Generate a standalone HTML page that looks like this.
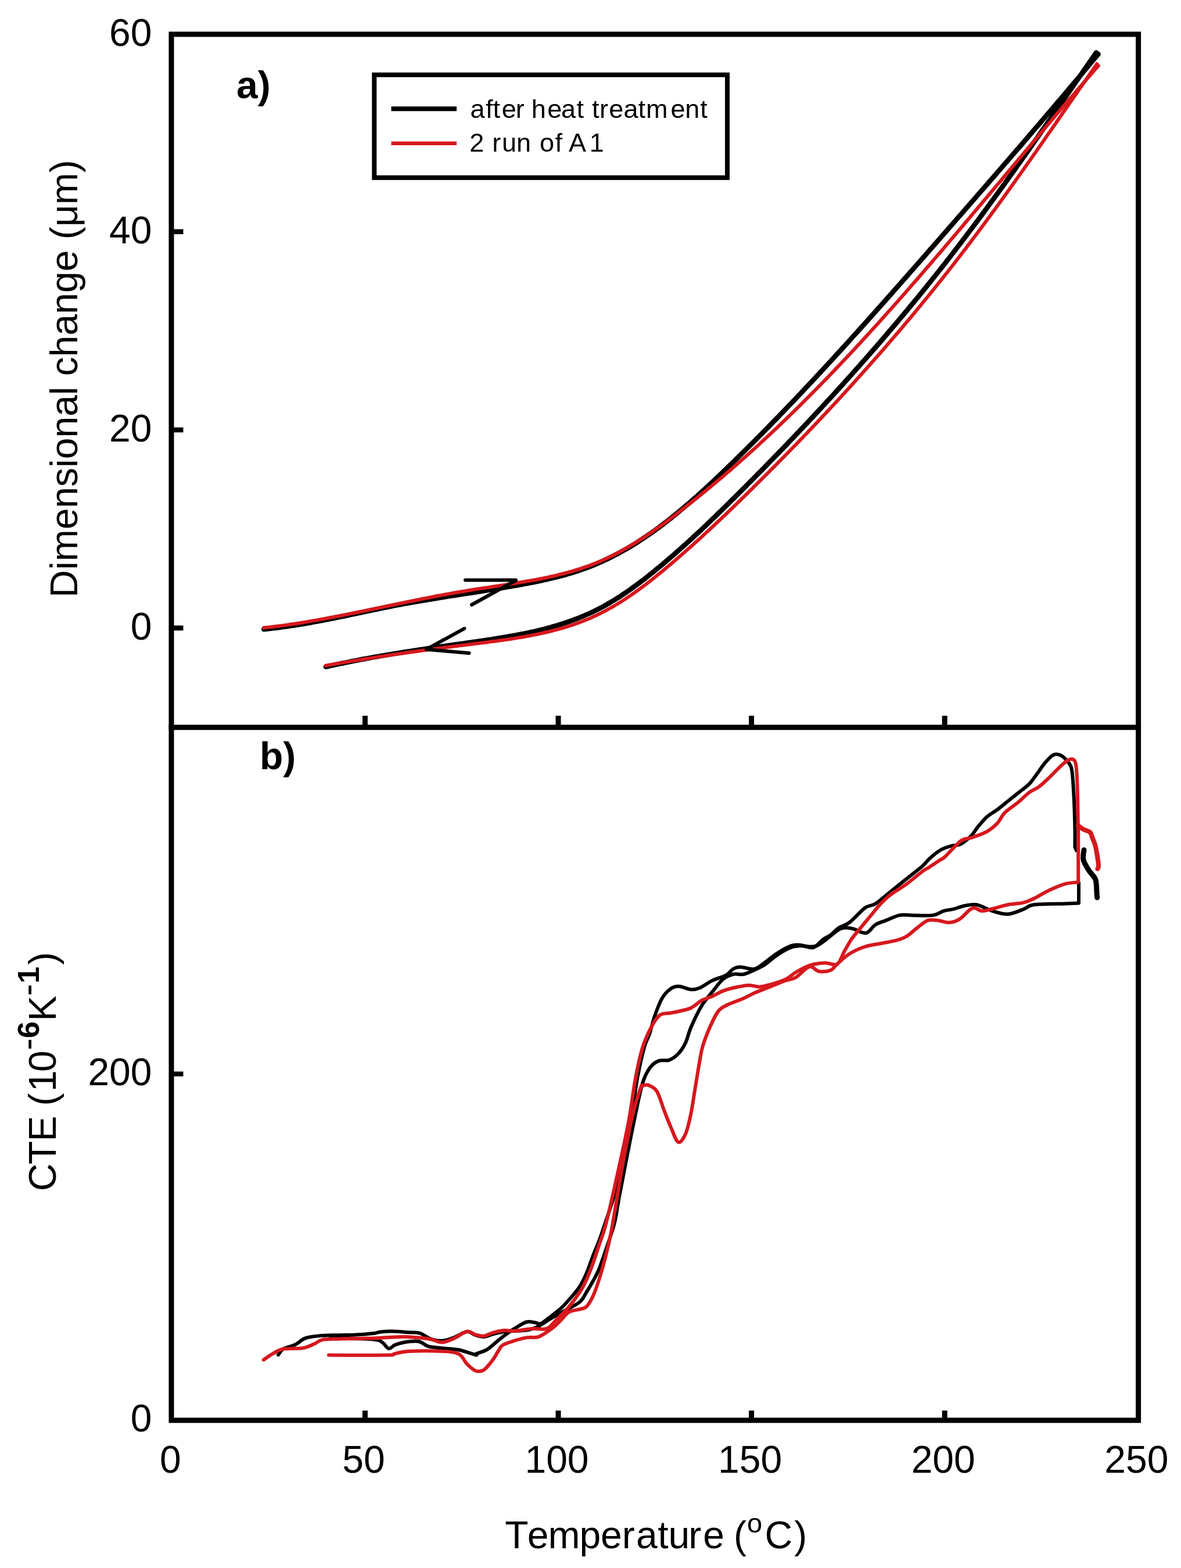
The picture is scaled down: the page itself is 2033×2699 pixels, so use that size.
<!DOCTYPE html>
<html><head><meta charset="utf-8"><title>Dimensional change and CTE vs temperature</title>
<style>html,body{margin:0;padding:0;background:#fff;}svg{display:block;}</style></head>
<body><svg width="2033" height="2699" viewBox="0 0 2033 2699">
<rect width="2033" height="2699" fill="#fff"/>
<rect x="295" y="59" width="1664.6" height="2385.8" fill="none" stroke="#000" stroke-width="9"/>
<line x1="290.5" y1="1252" x2="1964.1" y2="1252" stroke="#000" stroke-width="9"/>
<line x1="299" y1="398.8" x2="315.5" y2="398.8" stroke="#000" stroke-width="8.6"/>
<line x1="299" y1="740.0" x2="315.5" y2="740.0" stroke="#000" stroke-width="8.6"/>
<line x1="299" y1="1081.0" x2="315.5" y2="1081.0" stroke="#000" stroke-width="8.6"/>
<line x1="299" y1="1848.6" x2="315.5" y2="1848.6" stroke="#000" stroke-width="8.3"/>
<line x1="628.4" y1="1232" x2="628.4" y2="1248" stroke="#000" stroke-width="9"/>
<line x1="628.4" y1="2428" x2="628.4" y2="2441" stroke="#000" stroke-width="9"/>
<line x1="961.0" y1="1232" x2="961.0" y2="1248" stroke="#000" stroke-width="9"/>
<line x1="961.0" y1="2428" x2="961.0" y2="2441" stroke="#000" stroke-width="9"/>
<line x1="1293.6" y1="1232" x2="1293.6" y2="1248" stroke="#000" stroke-width="9"/>
<line x1="1293.6" y1="2428" x2="1293.6" y2="2441" stroke="#000" stroke-width="9"/>
<line x1="1626.2" y1="1232" x2="1626.2" y2="1248" stroke="#000" stroke-width="9"/>
<line x1="1626.2" y1="2428" x2="1626.2" y2="2441" stroke="#000" stroke-width="9"/>
<text x="261.5" y="79" font-size="66" text-anchor="end" font-weight="normal" font-family="Liberation Sans, Arial, sans-serif">60</text>
<text x="261.5" y="418.8" font-size="66" text-anchor="end" font-weight="normal" font-family="Liberation Sans, Arial, sans-serif">40</text>
<text x="261.5" y="760" font-size="66" text-anchor="end" font-weight="normal" font-family="Liberation Sans, Arial, sans-serif">20</text>
<text x="261.5" y="1101" font-size="66" text-anchor="end" font-weight="normal" font-family="Liberation Sans, Arial, sans-serif">0</text>
<text x="261.5" y="1868.1" font-size="66" text-anchor="end" font-weight="normal" font-family="Liberation Sans, Arial, sans-serif">200</text>
<text x="261.5" y="2464.3" font-size="66" text-anchor="end" font-weight="normal" font-family="Liberation Sans, Arial, sans-serif">0</text>
<text x="293.3" y="2535" font-size="66" text-anchor="middle" font-weight="normal" font-family="Liberation Sans, Arial, sans-serif">0</text>
<text x="625.9" y="2535" font-size="66" text-anchor="middle" font-weight="normal" font-family="Liberation Sans, Arial, sans-serif">50</text>
<text x="958.5" y="2535" font-size="66" text-anchor="middle" font-weight="normal" font-family="Liberation Sans, Arial, sans-serif">100</text>
<text x="1291.1" y="2535" font-size="66" text-anchor="middle" font-weight="normal" font-family="Liberation Sans, Arial, sans-serif">150</text>
<text x="1623.7" y="2535" font-size="66" text-anchor="middle" font-weight="normal" font-family="Liberation Sans, Arial, sans-serif">200</text>
<text x="1956.3" y="2535" font-size="66" text-anchor="middle" font-weight="normal" font-family="Liberation Sans, Arial, sans-serif">250</text>
<text font-family="Liberation Sans, Arial, sans-serif" style="white-space:pre"><tspan x="869.2" y="2665.0" font-size="66">T</tspan><tspan x="907.8" y="2665.0" font-size="66">e</tspan><tspan x="943.6" y="2665.0" font-size="66">m</tspan><tspan x="997.5" y="2665.0" font-size="66">p</tspan><tspan x="1034.1" y="2665.0" font-size="66">e</tspan><tspan x="1070.8" y="2665.0" font-size="66">r</tspan><tspan x="1095.0" y="2665.0" font-size="66">a</tspan><tspan x="1132.2" y="2665.0" font-size="66">t</tspan><tspan x="1150.5" y="2665.0" font-size="66">u</tspan><tspan x="1185.2" y="2665.0" font-size="66">r</tspan><tspan x="1210.2" y="2665.0" font-size="66">e</tspan><tspan font-size="66"> </tspan><tspan x="1263.0" y="2665.0" font-size="66">(</tspan><tspan x="1286.1" y="2637.5" font-size="47">o</tspan><tspan x="1316.5" y="2665.0" font-size="66">C</tspan><tspan x="1367.2" y="2665.0" font-size="66">)</tspan></text>
<text transform="translate(133,652) rotate(-90)" font-size="66" text-anchor="middle" font-family="Liberation Sans, Arial, sans-serif">Dimensional change (μm)</text>
<text font-family="Liberation Sans, Arial, sans-serif" transform="translate(96.2,2100) rotate(-90)" style="white-space:pre"><tspan x="49.7" y="0.0" font-size="66">C</tspan><tspan x="95.7" y="0.0" font-size="66">T</tspan><tspan x="135.3" y="0.0" font-size="66">E</tspan><tspan font-size="66"> </tspan><tspan x="196.5" y="0.0" font-size="66">(</tspan><tspan x="221.0" y="0.0" font-size="66">1</tspan><tspan x="255.0" y="0.0" font-size="66">0</tspan><tspan x="292.3" y="-27.9" font-size="62">-</tspan><tspan x="313.1" y="-29.7" font-size="52" font-weight="bold">6</tspan><tspan x="342.2" y="0.0" font-size="66">K</tspan><tspan x="385.8" y="-27.9" font-size="62">-</tspan><tspan x="407.3" y="-29.7" font-size="52" font-weight="bold">1</tspan><tspan x="439.2" y="0.0" font-size="66">)</tspan></text>
<text x="407" y="169" font-size="66" text-anchor="start" font-weight="bold" font-family="Liberation Sans, Arial, sans-serif">a)</text>
<text x="447" y="1323.7" font-size="66" text-anchor="start" font-weight="bold" font-family="Liberation Sans, Arial, sans-serif">b)</text>
<rect x="644.3" y="128.8" width="607.7" height="177" fill="none" stroke="#000" stroke-width="8"/>
<line x1="673.5" y1="187.3" x2="786" y2="187.3" stroke="#000" stroke-width="8"/>
<line x1="673.5" y1="246.7" x2="786" y2="246.7" stroke="rgb(214,24,30)" stroke-width="6.5"/>
<text font-family="Liberation Sans, Arial, sans-serif" style="white-space:pre"><tspan x="809.6" y="202.6" font-size="45">a</tspan><tspan x="836.0" y="202.6" font-size="45">f</tspan><tspan x="848.5" y="202.6" font-size="45">t</tspan><tspan x="863.7" y="202.6" font-size="45">e</tspan><tspan x="887.8" y="202.6" font-size="45">r</tspan><tspan font-size="45"> </tspan><tspan x="914.7" y="202.6" font-size="45">h</tspan><tspan x="942.3" y="202.6" font-size="45">e</tspan><tspan x="966.1" y="202.6" font-size="45">a</tspan><tspan x="992.4" y="202.6" font-size="45">t</tspan><tspan font-size="45"> </tspan><tspan x="1019.1" y="202.6" font-size="45">t</tspan><tspan x="1032.0" y="202.6" font-size="45">r</tspan><tspan x="1048.3" y="202.6" font-size="45">e</tspan><tspan x="1073.4" y="202.6" font-size="45">a</tspan><tspan x="1098.4" y="202.6" font-size="45">t</tspan><tspan x="1111.9" y="202.6" font-size="45">m</tspan><tspan x="1154.6" y="202.6" font-size="45">e</tspan><tspan x="1179.3" y="202.6" font-size="45">n</tspan><tspan x="1205.3" y="202.6" font-size="45">t</tspan></text>
<text font-family="Liberation Sans, Arial, sans-serif" style="white-space:pre"><tspan x="808.3" y="260.6" font-size="45">2</tspan><tspan font-size="45"> </tspan><tspan x="847.3" y="260.6" font-size="45">r</tspan><tspan x="863.9" y="260.6" font-size="45">u</tspan><tspan x="889.1" y="260.6" font-size="45">n</tspan><tspan font-size="45"> </tspan><tspan x="929.1" y="260.6" font-size="45">o</tspan><tspan x="955.6" y="260.6" font-size="45">f</tspan><tspan font-size="45"> </tspan><tspan x="979.1" y="260.6" font-size="45">A</tspan><tspan x="1014.7" y="260.6" font-size="45">1</tspan></text>
<path d="M454.2,1083.2 C455.3,1083.1 458.5,1082.8 460.7,1082.5 C462.9,1082.2 465.0,1082.0 467.1,1081.7 C469.2,1081.5 471.4,1081.2 473.5,1081.0 C475.6,1080.8 477.7,1080.5 479.8,1080.2 C481.9,1079.9 483.9,1079.6 486.0,1079.3 C488.1,1079.0 490.1,1078.8 492.2,1078.5 C494.3,1078.2 496.3,1077.9 498.4,1077.6 C500.4,1077.3 502.5,1077.0 504.5,1076.7 C506.5,1076.4 508.6,1076.0 510.6,1075.7 C512.6,1075.4 514.6,1075.1 516.6,1074.8 C518.6,1074.5 520.6,1074.1 522.6,1073.8 C524.6,1073.5 526.6,1073.1 528.6,1072.8 C530.6,1072.5 532.5,1072.0 534.5,1071.7 C536.5,1071.4 538.4,1071.1 540.4,1070.7 C542.4,1070.3 544.3,1070.0 546.3,1069.6 C548.2,1069.2 550.2,1068.9 552.1,1068.5 C554.0,1068.1 556.0,1067.8 557.9,1067.4 C559.8,1067.0 561.8,1066.7 563.7,1066.3 C565.6,1065.9 567.6,1065.5 569.5,1065.1 C571.4,1064.7 573.3,1064.4 575.2,1064.0 C577.1,1063.6 579.0,1063.2 580.9,1062.8 C582.8,1062.4 584.8,1062.0 586.7,1061.6 C588.6,1061.2 590.5,1060.9 592.4,1060.5 C594.3,1060.1 596.2,1059.7 598.1,1059.3 C600.0,1058.9 601.8,1058.5 603.7,1058.1 C605.6,1057.7 607.5,1057.3 609.4,1056.9 C611.3,1056.5 613.2,1056.1 615.1,1055.7 C617.0,1055.3 618.9,1054.9 620.8,1054.5 C622.7,1054.1 624.5,1053.7 626.4,1053.3 C628.3,1052.9 630.2,1052.5 632.1,1052.1 C634.0,1051.7 635.9,1051.3 637.8,1050.9 C639.7,1050.5 641.6,1050.1 643.5,1049.7 C645.4,1049.3 647.2,1048.9 649.1,1048.5 C651.0,1048.1 652.9,1047.8 654.8,1047.4 C656.7,1047.0 658.7,1046.6 660.6,1046.2 C662.5,1045.8 664.4,1045.4 666.3,1045.0 C668.2,1044.6 670.1,1044.3 672.0,1043.9 C673.9,1043.5 675.9,1043.1 677.8,1042.7 C679.7,1042.3 681.7,1042.0 683.6,1041.6 C685.5,1041.2 687.5,1040.9 689.4,1040.5 C691.3,1040.1 693.3,1039.8 695.2,1039.4 C697.1,1039.0 699.0,1038.7 701.0,1038.3 C703.0,1037.9 704.9,1037.6 706.9,1037.3 C708.9,1037.0 710.8,1036.5 712.8,1036.2 C714.8,1035.9 716.8,1035.5 718.8,1035.2 C720.8,1034.9 722.7,1034.5 724.7,1034.2 C726.7,1033.9 728.7,1033.5 730.7,1033.2 C732.7,1032.9 734.7,1032.5 736.7,1032.2 C738.7,1031.9 740.7,1031.5 742.7,1031.2 C744.7,1030.9 746.7,1030.5 748.7,1030.2 C750.7,1029.9 752.8,1029.5 754.8,1029.2 C756.8,1028.9 758.8,1028.6 760.8,1028.3 C762.8,1028.0 764.9,1027.6 766.9,1027.3 C768.9,1027.0 771.0,1026.7 773.0,1026.4 C775.0,1026.1 777.1,1025.7 779.1,1025.4 C781.1,1025.1 783.2,1024.8 785.2,1024.5 C787.2,1024.2 789.3,1023.8 791.3,1023.5 C793.3,1023.2 795.3,1022.9 797.4,1022.6 C799.5,1022.3 801.5,1021.9 803.6,1021.6 C805.7,1021.3 807.7,1021.0 809.7,1020.7 C811.7,1020.4 813.8,1020.0 815.8,1019.7 C817.8,1019.4 820.0,1019.1 822.0,1018.8 C824.0,1018.5 826.1,1018.1 828.1,1017.8 C830.1,1017.5 832.2,1017.1 834.2,1016.8 C836.2,1016.5 838.4,1016.2 840.4,1015.9 C842.4,1015.6 844.5,1015.2 846.5,1014.9 C848.5,1014.6 850.6,1014.2 852.6,1013.9 C854.6,1013.6 856.8,1013.2 858.8,1012.9 C860.8,1012.6 862.9,1012.2 864.9,1011.9 C866.9,1011.5 869.0,1011.1 871.0,1010.8 C873.0,1010.4 875.1,1010.1 877.1,1009.8 C879.1,1009.4 881.2,1009.1 883.2,1008.7 C885.2,1008.4 887.2,1008.1 889.2,1007.7 C891.2,1007.4 893.3,1007.0 895.3,1006.6 C897.3,1006.2 899.3,1005.8 901.3,1005.4 C903.3,1005.0 905.4,1004.7 907.4,1004.3 C909.4,1003.9 911.4,1003.6 913.4,1003.2 C915.4,1002.8 917.4,1002.4 919.4,1002.0 C921.4,1001.6 923.3,1001.2 925.3,1000.8 C927.3,1000.4 929.3,999.9 931.3,999.5 C933.3,999.1 935.2,998.6 937.2,998.2 C939.2,997.8 941.1,997.4 943.1,996.9 C945.1,996.4 947.0,996.0 949.0,995.5 C951.0,995.0 952.9,994.6 954.8,994.1 C956.7,993.6 958.7,993.2 960.6,992.7 C962.5,992.2 964.5,991.7 966.4,991.2 C968.3,990.7 970.3,990.1 972.2,989.6 C974.1,989.1 976.0,988.5 977.9,988.0 C979.8,987.5 981.7,986.9 983.6,986.3 C985.5,985.7 987.4,985.1 989.3,984.5 C991.2,983.9 993.0,983.3 994.9,982.7 C996.8,982.1 998.6,981.4 1000.5,980.8 C1002.4,980.1 1004.2,979.5 1006.1,978.8 C1008.0,978.1 1009.8,977.5 1011.6,976.8 C1013.4,976.1 1015.2,975.4 1017.0,974.7 C1018.8,974.0 1020.7,973.2 1022.5,972.5 C1024.3,971.8 1026.1,971.0 1027.9,970.2 C1029.7,969.4 1031.4,968.6 1033.2,967.8 C1035.0,967.0 1036.8,966.2 1038.6,965.4 C1040.4,964.6 1042.2,963.7 1043.9,962.9 C1045.7,962.1 1047.4,961.2 1049.1,960.4 C1050.8,959.5 1052.6,958.7 1054.3,957.8 C1056.0,956.9 1057.8,956.0 1059.5,955.1 C1061.2,954.2 1063.0,953.3 1064.7,952.4 C1066.4,951.5 1068.1,950.5 1069.8,949.6 C1071.5,948.7 1073.2,947.7 1074.9,946.7 C1076.6,945.7 1078.3,944.8 1080.0,943.8 C1081.7,942.8 1083.3,941.8 1085.0,940.8 C1086.7,939.8 1088.3,938.8 1090.0,937.8 C1091.7,936.8 1093.3,935.8 1095.0,934.7 C1096.7,933.7 1098.3,932.6 1100.0,931.5 C1101.7,930.4 1103.3,929.4 1104.9,928.3 C1106.5,927.2 1108.2,926.2 1109.8,925.1 C1111.4,924.0 1113.0,922.9 1114.6,921.8 C1116.2,920.7 1117.9,919.5 1119.5,918.4 C1121.1,917.3 1122.7,916.1 1124.3,915.0 C1125.9,913.9 1127.5,912.8 1129.1,911.6 C1130.7,910.5 1132.3,909.3 1133.9,908.1 C1135.5,906.9 1137.0,905.7 1138.6,904.5 C1140.2,903.3 1141.7,902.2 1143.3,901.0 C1144.9,899.8 1146.4,898.6 1148.0,897.4 C1149.6,896.2 1151.2,894.9 1152.7,893.7 C1154.2,892.5 1155.8,891.2 1157.3,890.0 C1158.8,888.8 1160.5,887.5 1162.0,886.3 C1163.5,885.0 1165.1,883.8 1166.6,882.5 C1168.1,881.2 1169.7,880.0 1171.2,878.7 C1172.7,877.4 1174.3,876.2 1175.8,874.9 C1177.3,873.6 1178.8,872.3 1180.3,871.0 C1181.8,869.7 1183.4,868.4 1184.9,867.1 C1186.4,865.8 1187.9,864.5 1189.4,863.2 C1190.9,861.9 1192.4,860.5 1193.9,859.2 C1195.4,857.9 1196.9,856.6 1198.4,855.3 C1199.9,854.0 1201.4,852.6 1202.9,851.3 C1204.4,849.9 1205.8,848.6 1207.3,847.2 C1208.8,845.9 1210.3,844.6 1211.8,843.2 C1213.3,841.9 1214.7,840.5 1216.2,839.1 C1217.7,837.7 1219.1,836.4 1220.6,835.0 C1222.1,833.6 1223.5,832.3 1225.0,830.9 C1226.5,829.5 1227.9,828.2 1229.4,826.8 C1230.9,825.4 1232.3,824.0 1233.8,822.6 C1235.3,821.2 1236.7,819.9 1238.2,818.5 C1239.7,817.1 1241.1,815.7 1242.6,814.3 C1244.0,812.9 1245.5,811.5 1246.9,810.1 C1248.4,808.7 1249.8,807.3 1251.3,805.9 C1252.8,804.5 1254.1,803.1 1255.6,801.7 C1257.0,800.3 1258.5,798.9 1260.0,797.5 C1261.5,796.1 1262.9,794.7 1264.3,793.3 C1265.7,791.9 1267.2,790.5 1268.6,789.1 C1270.0,787.7 1271.5,786.2 1272.9,784.8 C1274.3,783.4 1275.8,782.0 1277.2,780.6 C1278.6,779.2 1280.1,777.7 1281.5,776.3 C1282.9,774.9 1284.4,773.5 1285.8,772.1 C1287.2,770.7 1288.7,769.2 1290.1,767.8 C1291.5,766.4 1293.0,764.9 1294.4,763.5 C1295.8,762.1 1297.2,760.7 1298.6,759.3 C1300.0,757.9 1301.5,756.4 1302.9,755.0 C1304.3,753.6 1305.8,752.1 1307.2,750.7 C1308.6,749.3 1310.0,747.8 1311.4,746.4 C1312.8,745.0 1314.2,743.5 1315.6,742.1 C1317.0,740.7 1318.5,739.2 1319.9,737.8 C1321.3,736.4 1322.7,735.0 1324.1,733.5 C1325.5,732.0 1326.9,730.6 1328.3,729.1 C1329.7,727.6 1331.2,726.2 1332.6,724.8 C1334.0,723.4 1335.4,722.0 1336.8,720.5 C1338.2,719.0 1339.6,717.6 1341.0,716.1 C1342.4,714.6 1343.8,713.2 1345.2,711.8 C1346.6,710.3 1348.0,708.8 1349.4,707.4 C1350.8,706.0 1352.2,704.5 1353.6,703.1 C1355.0,701.7 1356.3,700.2 1357.7,698.7 C1359.1,697.2 1360.5,695.8 1361.9,694.3 C1363.3,692.8 1364.7,691.5 1366.1,690.0 C1367.5,688.5 1368.8,687.1 1370.2,685.6 C1371.6,684.1 1373.0,682.7 1374.4,681.2 C1375.8,679.7 1377.2,678.3 1378.6,676.8 C1380.0,675.3 1381.3,673.9 1382.7,672.4 C1384.1,670.9 1385.4,669.5 1386.8,668.0 C1388.2,666.5 1389.6,665.1 1391.0,663.6 C1392.4,662.1 1393.7,660.7 1395.1,659.2 C1396.5,657.7 1397.8,656.3 1399.2,654.8 C1400.6,653.3 1402.0,651.9 1403.4,650.4 C1404.8,648.9 1406.1,647.5 1407.5,646.0 C1408.9,644.5 1410.2,643.0 1411.6,641.5 C1413.0,640.0 1414.3,638.6 1415.7,637.1 C1417.1,635.6 1418.4,634.2 1419.8,632.7 C1421.2,631.2 1422.5,629.7 1423.9,628.2 C1425.3,626.7 1426.6,625.3 1428.0,623.8 C1429.4,622.3 1430.7,620.8 1432.1,619.3 C1433.5,617.8 1434.8,616.4 1436.2,614.9 C1437.6,613.4 1438.9,611.9 1440.2,610.4 C1441.5,608.9 1442.9,607.5 1444.3,606.0 C1445.7,604.5 1447.1,603.0 1448.4,601.5 C1449.8,600.0 1451.1,598.6 1452.4,597.1 C1453.8,595.6 1455.1,594.1 1456.5,592.6 C1457.9,591.1 1459.2,589.6 1460.6,588.1 C1461.9,586.6 1463.3,585.2 1464.6,583.7 C1465.9,582.2 1467.2,580.7 1468.6,579.2 C1469.9,577.7 1471.3,576.2 1472.7,574.7 C1474.1,573.2 1475.4,571.7 1476.7,570.2 C1478.0,568.7 1479.5,567.3 1480.8,565.8 C1482.1,564.3 1483.5,562.8 1484.8,561.3 C1486.1,559.8 1487.5,558.3 1488.8,556.8 C1490.1,555.3 1491.4,553.8 1492.8,552.3 C1494.2,550.8 1495.6,549.3 1496.9,547.8 C1498.2,546.3 1499.6,544.8 1500.9,543.3 C1502.2,541.8 1503.6,540.3 1504.9,538.8 C1506.2,537.3 1507.6,535.8 1508.9,534.3 C1510.2,532.8 1511.6,531.4 1512.9,529.9 C1514.2,528.4 1515.6,526.9 1516.9,525.4 C1518.2,523.9 1519.6,522.4 1520.9,520.9 C1522.2,519.4 1523.6,517.9 1524.9,516.4 C1526.2,514.9 1527.6,513.4 1528.9,511.9 C1530.2,510.4 1531.6,508.9 1532.9,507.4 C1534.2,505.9 1535.6,504.4 1536.9,502.9 C1538.2,501.4 1539.5,499.8 1540.8,498.3 C1542.1,496.8 1543.5,495.3 1544.8,493.8 C1546.1,492.3 1547.5,490.8 1548.8,489.3 C1550.1,487.8 1551.5,486.3 1552.8,484.8 C1554.1,483.3 1555.4,481.8 1556.7,480.3 C1558.0,478.8 1559.4,477.3 1560.7,475.8 C1562.0,474.3 1563.4,472.8 1564.7,471.3 C1566.0,469.8 1567.3,468.3 1568.6,466.8 C1569.9,465.3 1571.3,463.8 1572.6,462.3 C1573.9,460.8 1575.3,459.3 1576.6,457.8 C1577.9,456.3 1579.2,454.8 1580.5,453.3 C1581.8,451.8 1583.2,450.3 1584.5,448.8 C1585.8,447.3 1587.1,445.8 1588.4,444.3 C1589.7,442.8 1591.1,441.3 1592.4,439.8 C1593.7,438.3 1595.0,436.8 1596.3,435.3 C1597.6,433.8 1598.9,432.2 1600.2,430.7 C1601.5,429.2 1602.9,427.7 1604.2,426.2 C1605.5,424.7 1606.8,423.2 1608.1,421.7 C1609.4,420.2 1610.8,418.7 1612.1,417.2 C1613.4,415.7 1614.7,414.2 1616.0,412.7 C1617.3,411.2 1618.6,409.7 1619.9,408.2 C1621.2,406.7 1622.6,405.2 1623.9,403.7 C1625.2,402.2 1626.5,400.7 1627.8,399.2 C1629.1,397.7 1630.4,396.2 1631.7,394.7 C1633.0,393.2 1634.4,391.7 1635.7,390.2 C1637.0,388.7 1638.3,387.2 1639.6,385.7 C1640.9,384.2 1642.2,382.8 1643.5,381.3 C1644.8,379.8 1646.1,378.3 1647.4,376.8 C1648.7,375.3 1650.0,373.8 1651.3,372.3 C1652.6,370.8 1654.0,369.3 1655.3,367.8 C1656.6,366.3 1657.9,364.8 1659.2,363.3 C1660.5,361.8 1661.8,360.3 1663.1,358.8 C1664.4,357.3 1665.7,355.8 1667.0,354.3 C1668.3,352.8 1669.6,351.3 1670.9,349.8 C1672.2,348.3 1673.6,346.8 1674.9,345.3 C1676.2,343.8 1677.5,342.3 1678.8,340.8 C1680.1,339.3 1681.4,337.8 1682.7,336.3 C1684.0,334.8 1685.3,333.3 1686.6,331.8 C1687.9,330.3 1689.2,328.8 1690.5,327.3 C1691.8,325.8 1693.1,324.4 1694.4,322.9 C1695.7,321.4 1697.0,319.9 1698.3,318.4 C1699.6,316.9 1700.9,315.4 1702.2,313.9 C1703.5,312.4 1704.8,310.9 1706.1,309.4 C1707.4,307.9 1708.8,306.4 1710.1,304.9 C1711.4,303.4 1712.7,301.9 1714.0,300.4 C1715.3,298.9 1716.6,297.3 1717.9,295.8 C1719.2,294.3 1720.5,292.8 1721.8,291.3 C1723.1,289.8 1724.4,288.3 1725.7,286.8 C1727.0,285.3 1728.3,283.8 1729.6,282.3 C1730.9,280.8 1732.2,279.3 1733.5,277.8 C1734.8,276.3 1736.1,274.8 1737.4,273.3 C1738.7,271.8 1740.0,270.3 1741.3,268.8 C1742.6,267.3 1743.9,265.7 1745.2,264.2 C1746.5,262.7 1747.8,261.2 1749.1,259.7 C1750.4,258.2 1751.8,256.7 1753.1,255.2 C1754.4,253.7 1755.7,252.1 1757.0,250.6 C1758.3,249.1 1759.6,247.6 1760.9,246.1 C1762.2,244.6 1763.5,243.1 1764.8,241.6 C1766.1,240.1 1767.4,238.5 1768.7,237.0 C1770.0,235.5 1771.3,233.9 1772.6,232.4 C1773.9,230.9 1775.2,229.4 1776.5,227.9 C1777.8,226.4 1779.1,224.8 1780.4,223.3 C1781.7,221.8 1783.0,220.3 1784.3,218.8 C1785.6,217.3 1787.0,215.7 1788.3,214.2 C1789.6,212.7 1790.9,211.1 1792.2,209.6 C1793.5,208.1 1794.8,206.5 1796.1,205.0 C1797.4,203.5 1798.7,201.9 1800.0,200.4 C1801.3,198.9 1802.6,197.4 1803.9,195.9 C1805.2,194.4 1806.6,192.8 1807.9,191.3 C1809.2,189.8 1810.5,188.2 1811.8,186.7 C1813.1,185.1 1814.4,183.6 1815.7,182.0 C1817.0,180.4 1818.3,178.9 1819.6,177.4 C1820.9,175.9 1822.2,174.3 1823.5,172.8 C1824.8,171.3 1826.2,169.8 1827.5,168.2 C1828.8,166.6 1830.1,165.1 1831.4,163.5 C1832.7,161.9 1834.0,160.5 1835.3,158.9 C1836.6,157.3 1838.0,155.8 1839.3,154.2 C1840.6,152.6 1841.9,151.1 1843.2,149.6 C1844.5,148.1 1845.8,146.5 1847.1,144.9 C1848.4,143.3 1849.8,141.8 1851.1,140.2 C1852.4,138.6 1853.7,137.1 1855.0,135.6 C1856.3,134.1 1857.7,132.5 1859.0,130.9 C1860.3,129.3 1861.6,127.8 1862.9,126.2 C1864.2,124.6 1865.5,123.1 1866.8,121.5 C1868.1,119.9 1869.5,118.4 1870.8,116.8 C1872.1,115.2 1873.4,113.6 1874.7,112.0 C1876.0,110.4 1877.4,108.9 1878.7,107.3 C1880.0,105.7 1881.4,104.2 1882.7,102.6 C1884.0,101.0 1885.3,99.4 1886.6,97.8 C1887.9,96.2 1889.9,93.9 1890.6,93.1" fill="none" stroke="#000" stroke-width="8.5" stroke-linejoin="round" stroke-linecap="round"/>
<path d="M1887.1,90.6 C1886.5,91.4 1884.8,93.9 1883.6,95.6 C1882.4,97.3 1881.3,99.0 1880.1,100.7 C1878.9,102.4 1877.8,104.0 1876.6,105.7 C1875.4,107.4 1874.3,109.1 1873.1,110.8 C1871.9,112.5 1870.8,114.1 1869.6,115.8 C1868.4,117.5 1867.2,119.1 1866.1,120.8 C1864.9,122.5 1863.8,124.1 1862.7,125.8 C1861.6,127.5 1860.4,129.2 1859.2,130.9 C1858.0,132.6 1856.9,134.2 1855.7,135.9 C1854.5,137.6 1853.4,139.2 1852.2,140.9 C1851.0,142.6 1850.0,144.2 1848.8,145.9 C1847.6,147.6 1846.4,149.2 1845.3,150.9 C1844.2,152.6 1843.1,154.2 1841.9,155.9 C1840.8,157.6 1839.6,159.2 1838.4,160.9 C1837.2,162.6 1836.2,164.2 1835.0,165.9 C1833.8,167.6 1832.7,169.2 1831.5,170.9 C1830.3,172.6 1829.2,174.2 1828.1,175.9 C1826.9,177.6 1825.8,179.2 1824.6,180.8 C1823.4,182.5 1822.3,184.1 1821.2,185.8 C1820.1,187.5 1818.9,189.2 1817.7,190.8 C1816.5,192.5 1815.5,194.0 1814.3,195.7 C1813.1,197.3 1811.9,199.0 1810.8,200.7 C1809.7,202.4 1808.6,204.0 1807.4,205.7 C1806.2,207.3 1805.1,208.9 1803.9,210.6 C1802.8,212.2 1801.7,213.9 1800.5,215.6 C1799.3,217.2 1798.2,218.9 1797.0,220.5 C1795.8,222.1 1794.8,223.8 1793.6,225.4 C1792.4,227.1 1791.2,228.8 1790.1,230.4 C1788.9,232.1 1787.8,233.7 1786.7,235.3 C1785.6,236.9 1784.4,238.6 1783.2,240.2 C1782.0,241.8 1781.0,243.4 1779.8,245.1 C1778.6,246.8 1777.4,248.4 1776.3,250.1 C1775.2,251.8 1774.1,253.4 1772.9,255.0 C1771.8,256.6 1770.6,258.3 1769.4,259.9 C1768.2,261.5 1767.2,263.2 1766.0,264.8 C1764.8,266.4 1763.7,268.1 1762.5,269.7 C1761.3,271.3 1760.2,273.0 1759.1,274.6 C1757.9,276.2 1756.8,277.8 1755.6,279.4 C1754.4,281.0 1753.2,282.7 1752.1,284.3 C1750.9,285.9 1749.8,287.6 1748.7,289.2 C1747.6,290.8 1746.4,292.5 1745.2,294.1 C1744.0,295.7 1742.9,297.3 1741.7,298.9 C1740.5,300.5 1739.4,302.2 1738.2,303.8 C1737.0,305.4 1735.9,307.1 1734.7,308.7 C1733.5,310.3 1732.5,311.9 1731.3,313.5 C1730.1,315.1 1729.0,316.8 1727.8,318.4 C1726.6,320.0 1725.5,321.6 1724.3,323.2 C1723.1,324.8 1722.0,326.4 1720.8,328.0 C1719.6,329.6 1718.5,331.3 1717.3,332.9 C1716.1,334.5 1715.0,336.1 1713.8,337.7 C1712.6,339.3 1711.5,340.9 1710.3,342.5 C1709.1,344.1 1707.9,345.7 1706.7,347.3 C1705.5,348.9 1704.4,350.6 1703.2,352.2 C1702.0,353.8 1700.9,355.4 1699.7,357.0 C1698.5,358.6 1697.3,360.2 1696.1,361.8 C1694.9,363.4 1693.8,365.0 1692.6,366.6 C1691.4,368.2 1690.3,369.8 1689.1,371.4 C1687.9,373.0 1686.7,374.6 1685.5,376.2 C1684.3,377.8 1683.1,379.4 1681.9,381.0 C1680.7,382.6 1679.6,384.1 1678.4,385.7 C1677.2,387.3 1676.0,388.9 1674.8,390.5 C1673.6,392.1 1672.4,393.7 1671.2,395.3 C1670.0,396.9 1668.8,398.4 1667.6,400.0 C1666.4,401.6 1665.2,403.2 1664.0,404.8 C1662.8,406.4 1661.6,408.0 1660.4,409.6 C1659.2,411.2 1658.0,412.7 1656.8,414.3 C1655.6,415.9 1654.4,417.5 1653.2,419.1 C1652.0,420.7 1650.8,422.2 1649.6,423.8 C1648.4,425.4 1647.1,426.9 1645.9,428.5 C1644.7,430.1 1643.5,431.7 1642.3,433.3 C1641.1,434.9 1639.8,436.4 1638.6,438.0 C1637.4,439.6 1636.2,441.1 1635.0,442.7 C1633.8,444.3 1632.5,445.8 1631.3,447.4 C1630.1,449.0 1628.8,450.6 1627.6,452.2 C1626.4,453.8 1625.1,455.3 1623.9,456.9 C1622.7,458.5 1621.4,460.0 1620.2,461.6 C1619.0,463.2 1617.7,464.7 1616.5,466.3 C1615.3,467.9 1614.0,469.4 1612.8,471.0 C1611.5,472.6 1610.2,474.1 1609.0,475.6 C1607.8,477.2 1606.5,478.7 1605.3,480.3 C1604.1,481.9 1602.8,483.4 1601.6,485.0 C1600.3,486.6 1599.1,488.1 1597.8,489.7 C1596.5,491.3 1595.2,492.8 1594.0,494.4 C1592.8,495.9 1591.5,497.4 1590.3,499.0 C1589.0,500.6 1587.8,502.1 1586.5,503.7 C1585.2,505.2 1584.0,506.8 1582.7,508.3 C1581.4,509.9 1580.2,511.4 1578.9,513.0 C1577.6,514.5 1576.4,516.1 1575.1,517.6 C1573.8,519.1 1572.6,520.8 1571.3,522.3 C1570.0,523.8 1568.7,525.4 1567.4,526.9 C1566.1,528.4 1564.9,530.0 1563.6,531.5 C1562.3,533.0 1561.1,534.6 1559.8,536.1 C1558.5,537.6 1557.2,539.2 1555.9,540.8 C1554.6,542.3 1553.3,543.9 1552.0,545.4 C1550.7,546.9 1549.5,548.5 1548.2,550.0 C1546.9,551.5 1545.6,553.1 1544.3,554.6 C1543.0,556.1 1541.7,557.7 1540.4,559.2 C1539.1,560.7 1537.8,562.3 1536.5,563.8 C1535.2,565.3 1533.9,566.8 1532.6,568.3 C1531.3,569.8 1530.0,571.4 1528.7,572.9 C1527.4,574.4 1526.1,576.0 1524.8,577.5 C1523.5,579.0 1522.2,580.6 1520.9,582.1 C1519.6,583.6 1518.2,585.1 1516.9,586.6 C1515.6,588.1 1514.3,589.7 1513.0,591.2 C1511.7,592.7 1510.4,594.3 1509.1,595.8 C1507.8,597.3 1506.4,598.8 1505.1,600.3 C1503.8,601.8 1502.4,603.4 1501.1,604.9 C1499.8,606.4 1498.5,607.9 1497.2,609.4 C1495.9,610.9 1494.5,612.4 1493.2,613.9 C1491.9,615.4 1490.5,617.0 1489.2,618.5 C1487.9,620.0 1486.5,621.5 1485.2,623.0 C1483.9,624.5 1482.5,626.0 1481.2,627.5 C1479.9,629.0 1478.5,630.5 1477.2,632.0 C1475.9,633.5 1474.5,635.0 1473.2,636.5 C1471.9,638.0 1470.5,639.5 1469.2,641.0 C1467.9,642.5 1466.5,644.0 1465.2,645.5 C1463.9,647.0 1462.6,648.5 1461.2,650.0 C1459.8,651.5 1458.4,653.0 1457.1,654.5 C1455.8,656.0 1454.4,657.5 1453.1,659.0 C1451.8,660.5 1450.3,662.0 1449.0,663.5 C1447.7,665.0 1446.3,666.4 1445.0,667.9 C1443.7,669.4 1442.2,670.9 1440.9,672.4 C1439.6,673.9 1438.2,675.4 1436.9,676.9 C1435.6,678.4 1434.2,679.8 1432.8,681.3 C1431.4,682.8 1430.1,684.3 1428.7,685.8 C1427.3,687.3 1426.0,688.7 1424.6,690.2 C1423.2,691.7 1421.9,693.1 1420.5,694.6 C1419.1,696.1 1417.8,697.6 1416.4,699.1 C1415.0,700.6 1413.7,702.0 1412.3,703.5 C1410.9,705.0 1409.6,706.4 1408.2,707.9 C1406.8,709.4 1405.5,710.9 1404.1,712.4 C1402.7,713.9 1401.4,715.3 1400.0,716.8 C1398.6,718.3 1397.3,719.7 1395.9,721.2 C1394.5,722.7 1393.1,724.1 1391.7,725.6 C1390.3,727.1 1389.0,728.5 1387.6,730.0 C1386.2,731.5 1384.9,732.9 1383.5,734.4 C1382.1,735.9 1380.7,737.2 1379.3,738.7 C1377.9,740.2 1376.6,741.6 1375.2,743.1 C1373.8,744.6 1372.4,746.0 1371.0,747.5 C1369.6,749.0 1368.3,750.4 1366.9,751.9 C1365.5,753.4 1364.1,754.8 1362.7,756.2 C1361.3,757.7 1359.9,759.2 1358.5,760.6 C1357.1,762.0 1355.8,763.5 1354.4,764.9 C1353.0,766.3 1351.6,767.8 1350.2,769.3 C1348.8,770.8 1347.4,772.1 1346.0,773.6 C1344.6,775.1 1343.2,776.5 1341.8,778.0 C1340.4,779.5 1339.0,780.9 1337.6,782.3 C1336.2,783.7 1334.8,785.2 1333.4,786.6 C1332.0,788.0 1330.6,789.5 1329.2,790.9 C1327.8,792.3 1326.4,793.8 1325.0,795.2 C1323.6,796.7 1322.2,798.2 1320.8,799.6 C1319.4,801.0 1318.0,802.5 1316.6,803.9 C1315.2,805.3 1313.8,806.8 1312.4,808.2 C1311.0,809.6 1309.6,811.0 1308.2,812.4 C1306.8,813.8 1305.3,815.3 1303.9,816.7 C1302.5,818.1 1301.1,819.6 1299.7,821.0 C1298.3,822.4 1296.9,823.9 1295.5,825.3 C1294.1,826.7 1292.6,828.1 1291.2,829.5 C1289.8,830.9 1288.4,832.4 1287.0,833.8 C1285.6,835.2 1284.2,836.7 1282.8,838.1 C1281.4,839.5 1279.9,840.9 1278.5,842.3 C1277.1,843.7 1275.7,845.2 1274.3,846.6 C1272.9,848.0 1271.4,849.4 1270.0,850.8 C1268.6,852.2 1267.2,853.6 1265.8,855.0 C1264.4,856.4 1262.9,857.9 1261.5,859.3 C1260.1,860.7 1258.6,862.1 1257.2,863.5 C1255.8,864.9 1254.4,866.3 1253.0,867.7 C1251.6,869.1 1250.1,870.5 1248.7,871.9 C1247.3,873.3 1245.8,874.7 1244.4,876.1 C1243.0,877.5 1241.5,878.9 1240.1,880.3 C1238.7,881.7 1237.2,883.1 1235.8,884.5 C1234.4,885.9 1232.9,887.3 1231.5,888.7 C1230.1,890.1 1228.6,891.4 1227.2,892.8 C1225.8,894.2 1224.4,895.6 1222.9,897.0 C1221.5,898.4 1220.0,899.7 1218.5,901.1 C1217.0,902.5 1215.7,903.9 1214.2,905.3 C1212.8,906.7 1211.2,908.0 1209.8,909.4 C1208.3,910.8 1207.0,912.1 1205.5,913.5 C1204.0,914.9 1202.6,916.2 1201.1,917.6 C1199.6,919.0 1198.2,920.3 1196.7,921.7 C1195.2,923.1 1193.7,924.4 1192.2,925.8 C1190.7,927.1 1189.3,928.4 1187.8,929.8 C1186.3,931.1 1184.9,932.5 1183.4,933.9 C1181.9,935.2 1180.4,936.6 1178.9,937.9 C1177.4,939.2 1175.9,940.6 1174.4,941.9 C1172.9,943.2 1171.4,944.6 1169.9,945.9 C1168.4,947.2 1166.9,948.6 1165.4,949.9 C1163.9,951.2 1162.4,952.6 1160.9,953.9 C1159.4,955.2 1157.8,956.6 1156.3,957.9 C1154.8,959.2 1153.2,960.5 1151.7,961.8 C1150.2,963.1 1148.6,964.5 1147.1,965.8 C1145.6,967.1 1144.0,968.4 1142.5,969.7 C1141.0,971.0 1139.5,972.3 1137.9,973.6 C1136.4,974.9 1134.8,976.1 1133.2,977.4 C1131.6,978.7 1130.1,980.0 1128.5,981.3 C1126.9,982.6 1125.4,983.8 1123.8,985.1 C1122.2,986.4 1120.6,987.6 1119.0,988.9 C1117.4,990.2 1115.9,991.4 1114.3,992.7 C1112.7,994.0 1111.1,995.2 1109.5,996.5 C1107.9,997.8 1106.2,999.0 1104.6,1000.2 C1103.0,1001.4 1101.4,1002.6 1099.8,1003.8 C1098.2,1005.0 1096.5,1006.3 1094.9,1007.5 C1093.3,1008.7 1091.6,1009.8 1090.0,1011.0 C1088.4,1012.2 1086.8,1013.4 1085.1,1014.6 C1083.4,1015.8 1081.8,1016.9 1080.1,1018.0 C1078.4,1019.1 1076.8,1020.3 1075.1,1021.4 C1073.4,1022.5 1071.8,1023.7 1070.1,1024.8 C1068.4,1025.9 1066.8,1027.0 1065.1,1028.1 C1063.4,1029.2 1061.7,1030.2 1060.0,1031.3 C1058.3,1032.3 1056.6,1033.4 1054.9,1034.4 C1053.2,1035.4 1051.5,1036.5 1049.8,1037.5 C1048.1,1038.5 1046.3,1039.5 1044.6,1040.5 C1042.9,1041.5 1041.2,1042.5 1039.5,1043.4 C1037.8,1044.4 1036.0,1045.3 1034.2,1046.2 C1032.5,1047.1 1030.8,1048.0 1029.0,1048.9 C1027.2,1049.8 1025.5,1050.6 1023.7,1051.5 C1021.9,1052.4 1020.2,1053.3 1018.4,1054.1 C1016.6,1054.9 1014.9,1055.7 1013.1,1056.5 C1011.3,1057.3 1009.5,1058.1 1007.7,1058.9 C1005.9,1059.7 1004.1,1060.5 1002.3,1061.2 C1000.5,1062.0 998.7,1062.7 996.9,1063.4 C995.1,1064.1 993.2,1064.8 991.4,1065.5 C989.6,1066.2 987.7,1066.9 985.9,1067.6 C984.1,1068.3 982.2,1068.9 980.4,1069.6 C978.6,1070.2 976.7,1070.9 974.9,1071.5 C973.1,1072.1 971.2,1072.7 969.4,1073.3 C967.5,1073.9 965.7,1074.5 963.8,1075.1 C961.9,1075.7 960.1,1076.2 958.2,1076.8 C956.3,1077.3 954.4,1077.9 952.5,1078.4 C950.6,1078.9 948.8,1079.5 946.9,1080.0 C945.0,1080.5 943.1,1081.1 941.2,1081.6 C939.3,1082.1 937.4,1082.5 935.5,1083.0 C933.6,1083.5 931.7,1084.0 929.8,1084.5 C927.9,1085.0 926.0,1085.3 924.1,1085.8 C922.2,1086.2 920.2,1086.8 918.3,1087.2 C916.4,1087.7 914.5,1088.1 912.6,1088.5 C910.7,1088.9 908.7,1089.3 906.8,1089.7 C904.9,1090.1 902.9,1090.5 901.0,1090.9 C899.1,1091.3 897.2,1091.6 895.2,1092.0 C893.2,1092.4 891.2,1092.8 889.3,1093.2 C887.3,1093.6 885.5,1094.0 883.5,1094.3 C881.5,1094.6 879.6,1095.0 877.6,1095.3 C875.6,1095.6 873.7,1096.0 871.7,1096.3 C869.7,1096.6 867.8,1097.0 865.8,1097.3 C863.8,1097.6 861.9,1098.0 859.9,1098.3 C857.9,1098.6 856.0,1099.0 854.0,1099.3 C852.0,1099.6 850.1,1099.9 848.1,1100.2 C846.1,1100.5 844.1,1100.8 842.1,1101.1 C840.1,1101.4 838.2,1101.7 836.2,1102.0 C834.2,1102.3 832.2,1102.6 830.2,1102.9 C828.2,1103.2 826.2,1103.5 824.2,1103.8 C822.2,1104.1 820.2,1104.3 818.2,1104.6 C816.2,1104.9 814.2,1105.2 812.2,1105.5 C810.2,1105.8 808.2,1106.0 806.2,1106.3 C804.2,1106.6 802.2,1106.9 800.2,1107.2 C798.2,1107.5 796.2,1107.7 794.2,1108.0 C792.2,1108.3 790.2,1108.6 788.2,1108.9 C786.2,1109.2 784.2,1109.4 782.2,1109.7 C780.2,1110.0 778.1,1110.3 776.1,1110.6 C774.1,1110.9 772.1,1111.2 770.1,1111.5 C768.1,1111.8 766.0,1112.0 764.0,1112.3 C762.0,1112.6 760.0,1112.9 758.0,1113.2 C756.0,1113.5 754.0,1113.8 752.0,1114.1 C750.0,1114.4 747.9,1114.7 745.9,1115.0 C743.9,1115.3 741.9,1115.5 739.9,1115.8 C737.9,1116.1 735.8,1116.4 733.8,1116.7 C731.8,1117.0 729.8,1117.3 727.8,1117.6 C725.8,1117.9 723.7,1118.2 721.7,1118.5 C719.7,1118.8 717.7,1119.1 715.7,1119.4 C713.7,1119.7 711.6,1120.1 709.6,1120.4 C707.6,1120.7 705.6,1121.0 703.6,1121.3 C701.6,1121.6 699.5,1121.9 697.5,1122.2 C695.5,1122.5 693.5,1122.9 691.5,1123.2 C689.5,1123.5 687.5,1123.9 685.5,1124.2 C683.5,1124.5 681.5,1124.8 679.5,1125.1 C677.5,1125.4 675.4,1125.8 673.4,1126.1 C671.4,1126.4 669.4,1126.8 667.4,1127.1 C665.4,1127.4 663.4,1127.8 661.4,1128.1 C659.4,1128.4 657.4,1128.8 655.4,1129.2 C653.4,1129.6 651.4,1129.9 649.4,1130.2 C647.4,1130.5 645.4,1130.9 643.4,1131.2 C641.4,1131.5 639.5,1131.9 637.5,1132.3 C635.5,1132.7 633.5,1133.0 631.5,1133.4 C629.5,1133.8 627.5,1134.1 625.5,1134.5 C623.5,1134.9 621.6,1135.2 619.6,1135.6 C617.6,1136.0 615.7,1136.4 613.7,1136.8 C611.7,1137.2 609.7,1137.5 607.7,1137.9 C605.7,1138.3 603.8,1138.7 601.8,1139.1 C599.8,1139.5 597.8,1139.9 595.9,1140.3 C594.0,1140.7 592.0,1141.1 590.1,1141.5 C588.2,1141.9 586.2,1142.3 584.2,1142.7 C582.2,1143.1 580.4,1143.5 578.4,1143.9 C576.4,1144.3 574.5,1144.8 572.5,1145.2 C570.5,1145.6 568.6,1146.1 566.7,1146.5 C564.8,1146.9 561.9,1147.6 560.9,1147.8" fill="none" stroke="#000" stroke-width="8.5" stroke-linejoin="round" stroke-linecap="round"/>
<path d="M454.1,1080.6 C455.1,1080.5 458.0,1080.2 459.9,1080.0 C461.8,1079.8 463.7,1079.5 465.6,1079.3 C467.5,1079.1 469.5,1078.8 471.4,1078.6 C473.3,1078.4 475.2,1078.1 477.1,1077.9 C479.0,1077.7 481.0,1077.5 482.9,1077.2 C484.8,1077.0 486.8,1076.7 488.7,1076.4 C490.6,1076.1 492.6,1075.9 494.5,1075.6 C496.4,1075.3 498.4,1075.0 500.3,1074.7 C502.2,1074.4 504.2,1074.2 506.1,1073.9 C508.0,1073.6 510.0,1073.3 511.9,1073.0 C513.8,1072.7 515.8,1072.4 517.7,1072.1 C519.7,1071.8 521.7,1071.4 523.6,1071.1 C525.5,1070.8 527.5,1070.4 529.4,1070.1 C531.3,1069.8 533.3,1069.4 535.3,1069.1 C537.2,1068.8 539.1,1068.4 541.1,1068.1 C543.1,1067.8 545.0,1067.4 547.0,1067.1 C549.0,1066.8 550.9,1066.4 552.9,1066.0 C554.9,1065.6 556.8,1065.3 558.8,1064.9 C560.8,1064.5 562.7,1064.2 564.7,1063.8 C566.7,1063.4 568.6,1063.1 570.6,1062.7 C572.6,1062.3 574.5,1062.0 576.5,1061.6 C578.5,1061.2 580.4,1060.9 582.4,1060.5 C584.4,1060.1 586.4,1059.7 588.4,1059.3 C590.4,1058.9 592.3,1058.5 594.3,1058.1 C596.3,1057.7 598.2,1057.3 600.2,1056.9 C602.2,1056.5 604.2,1056.1 606.2,1055.7 C608.2,1055.3 610.1,1054.9 612.1,1054.5 C614.1,1054.1 616.1,1053.7 618.1,1053.3 C620.1,1052.9 622.0,1052.5 624.0,1052.1 C626.0,1051.7 628.0,1051.3 630.0,1050.9 C632.0,1050.5 634.0,1050.0 636.0,1049.6 C638.0,1049.2 639.9,1048.8 641.9,1048.4 C643.9,1048.0 645.9,1047.5 647.9,1047.1 C649.9,1046.7 651.9,1046.3 653.9,1045.9 C655.9,1045.5 657.9,1045.0 659.9,1044.6 C661.9,1044.2 663.9,1043.8 665.9,1043.4 C667.9,1043.0 669.9,1042.5 671.9,1042.1 C673.9,1041.7 675.9,1041.3 677.9,1040.9 C679.9,1040.5 681.9,1040.0 683.9,1039.6 C685.9,1039.2 687.9,1038.8 689.9,1038.4 C691.9,1038.0 693.9,1037.6 695.9,1037.2 C697.9,1036.8 699.9,1036.3 701.9,1035.9 C703.9,1035.5 705.9,1035.1 707.9,1034.7 C709.9,1034.3 711.9,1033.9 713.9,1033.5 C715.9,1033.1 717.9,1032.7 719.9,1032.3 C721.9,1031.9 723.9,1031.4 725.9,1031.0 C727.9,1030.6 730.0,1030.3 732.0,1029.9 C734.0,1029.5 736.0,1029.1 738.0,1028.7 C740.0,1028.3 742.0,1027.9 744.0,1027.5 C746.0,1027.1 748.0,1026.7 750.0,1026.3 C752.0,1025.9 754.0,1025.6 756.0,1025.2 C758.0,1024.8 760.1,1024.5 762.1,1024.1 C764.1,1023.7 766.1,1023.4 768.1,1023.0 C770.1,1022.6 772.1,1022.3 774.1,1021.9 C776.1,1021.5 778.1,1021.2 780.1,1020.8 C782.1,1020.4 784.1,1020.1 786.1,1019.7 C788.1,1019.4 790.2,1019.0 792.2,1018.7 C794.2,1018.4 796.2,1018.0 798.2,1017.7 C800.2,1017.4 802.2,1017.0 804.2,1016.7 C806.2,1016.4 808.2,1016.0 810.2,1015.7 C812.2,1015.4 814.2,1015.0 816.2,1014.7 C818.2,1014.4 820.2,1014.1 822.2,1013.8 C824.2,1013.5 826.2,1013.2 828.2,1012.9 C830.2,1012.6 832.2,1012.3 834.2,1012.0 C836.2,1011.7 838.2,1011.4 840.2,1011.1 C842.2,1010.8 844.2,1010.5 846.2,1010.2 C848.2,1009.9 850.2,1009.6 852.2,1009.3 C854.2,1009.0 856.2,1008.7 858.2,1008.4 C860.2,1008.1 862.1,1007.8 864.1,1007.5 C866.1,1007.2 868.1,1006.9 870.1,1006.6 C872.1,1006.3 874.0,1006.0 876.0,1005.7 C878.0,1005.4 880.0,1005.0 882.0,1004.7 C884.0,1004.4 885.9,1004.1 887.9,1003.8 C889.9,1003.5 891.8,1003.1 893.8,1002.8 C895.8,1002.5 897.7,1002.1 899.7,1001.8 C901.7,1001.5 903.6,1001.1 905.6,1000.8 C907.6,1000.5 909.5,1000.1 911.5,999.8 C913.5,999.5 915.3,999.1 917.3,998.8 C919.2,998.4 921.2,998.1 923.2,997.7 C925.2,997.3 927.1,996.9 929.0,996.5 C930.9,996.1 932.9,995.8 934.8,995.4 C936.7,995.0 938.7,994.6 940.6,994.2 C942.5,993.8 944.5,993.3 946.4,992.9 C948.3,992.5 950.3,992.1 952.2,991.7 C954.1,991.3 956.0,990.8 957.9,990.3 C959.8,989.8 961.7,989.4 963.6,988.9 C965.5,988.4 967.4,988.0 969.3,987.5 C971.2,987.0 973.1,986.5 975.0,986.0 C976.9,985.5 978.7,984.9 980.6,984.4 C982.5,983.9 984.4,983.3 986.3,982.8 C988.2,982.2 990.0,981.7 991.9,981.1 C993.8,980.5 995.6,980.0 997.5,979.4 C999.4,978.8 1001.2,978.1 1003.0,977.5 C1004.8,976.9 1006.6,976.2 1008.5,975.6 C1010.4,975.0 1012.3,974.4 1014.1,973.7 C1015.9,973.0 1017.7,972.3 1019.5,971.6 C1021.3,970.9 1023.2,970.2 1025.0,969.5 C1026.8,968.8 1028.6,968.0 1030.4,967.2 C1032.2,966.4 1034.0,965.7 1035.8,964.9 C1037.6,964.1 1039.3,963.3 1041.1,962.5 C1042.9,961.7 1044.7,960.9 1046.5,960.1 C1048.3,959.3 1050.0,958.4 1051.8,957.5 C1053.6,956.6 1055.3,955.8 1057.1,954.9 C1058.8,954.0 1060.6,953.1 1062.3,952.2 C1064.0,951.3 1065.8,950.4 1067.5,949.4 C1069.2,948.4 1071.0,947.5 1072.7,946.5 C1074.4,945.5 1076.2,944.6 1077.9,943.6 C1079.6,942.6 1081.4,941.6 1083.1,940.6 C1084.8,939.6 1086.5,938.6 1088.2,937.6 C1089.9,936.6 1091.6,935.5 1093.3,934.5 C1095.0,933.5 1096.7,932.4 1098.4,931.3 C1100.1,930.2 1101.7,929.2 1103.4,928.1 C1105.1,927.0 1106.8,926.0 1108.5,924.9 C1110.2,923.8 1111.8,922.6 1113.5,921.5 C1115.2,920.4 1116.8,919.3 1118.5,918.2 C1120.2,917.1 1121.8,915.9 1123.5,914.8 C1125.2,913.6 1126.8,912.4 1128.4,911.3 C1130.0,910.1 1131.7,909.1 1133.3,907.9 C1134.9,906.7 1136.6,905.5 1138.3,904.3 C1140.0,903.1 1141.6,902.0 1143.2,900.8 C1144.8,899.6 1146.4,898.4 1148.0,897.2 C1149.6,896.0 1151.3,894.8 1152.9,893.6 C1154.5,892.4 1156.1,891.1 1157.7,889.9 C1159.3,888.7 1161.0,887.5 1162.6,886.3 C1164.2,885.1 1165.8,883.8 1167.4,882.6 C1169.0,881.4 1170.6,880.1 1172.2,878.9 C1173.8,877.6 1175.4,876.4 1177.0,875.1 C1178.6,873.9 1180.1,872.6 1181.7,871.4 C1183.3,870.2 1184.9,869.0 1186.5,867.7 C1188.1,866.5 1189.6,865.2 1191.2,863.9 C1192.8,862.6 1194.4,861.4 1196.0,860.1 C1197.6,858.8 1199.1,857.6 1200.7,856.3 C1202.3,855.0 1203.8,853.8 1205.4,852.5 C1207.0,851.2 1208.5,850.0 1210.1,848.7 C1211.7,847.4 1213.2,846.2 1214.8,844.9 C1216.3,843.6 1217.9,842.3 1219.4,841.0 C1221.0,839.7 1222.5,838.5 1224.1,837.2 C1225.6,835.9 1227.2,834.6 1228.7,833.3 C1230.2,832.0 1231.8,830.8 1233.3,829.5 C1234.8,828.2 1236.5,826.9 1238.0,825.6 C1239.5,824.3 1241.1,823.0 1242.6,821.7 C1244.1,820.4 1245.6,819.0 1247.1,817.7 C1248.6,816.4 1250.2,815.1 1251.7,813.8 C1253.2,812.5 1254.8,811.2 1256.3,809.9 C1257.8,808.6 1259.3,807.2 1260.8,805.9 C1262.3,804.6 1263.9,803.3 1265.4,802.0 C1266.9,800.7 1268.4,799.3 1269.9,798.0 C1271.4,796.7 1272.9,795.3 1274.4,794.0 C1275.9,792.7 1277.4,791.3 1278.9,790.0 C1280.4,788.7 1281.9,787.3 1283.4,786.0 C1284.9,784.7 1286.4,783.3 1287.9,782.0 C1289.4,780.7 1290.9,779.3 1292.4,778.0 C1293.9,776.7 1295.3,775.4 1296.8,774.0 C1298.3,772.6 1299.8,771.2 1301.3,769.9 C1302.8,768.5 1304.2,767.2 1305.7,765.9 C1307.2,764.5 1308.6,763.2 1310.1,761.8 C1311.6,760.4 1313.0,759.1 1314.5,757.7 C1316.0,756.3 1317.4,755.0 1318.9,753.6 C1320.4,752.2 1321.8,750.9 1323.3,749.5 C1324.8,748.1 1326.2,746.8 1327.7,745.4 C1329.2,744.0 1330.6,742.7 1332.1,741.3 C1333.6,739.9 1335.0,738.6 1336.5,737.2 C1338.0,735.8 1339.3,734.4 1340.8,733.0 C1342.2,731.6 1343.8,730.3 1345.2,728.9 C1346.7,727.5 1348.1,726.1 1349.5,724.7 C1350.9,723.3 1352.4,722.0 1353.8,720.6 C1355.2,719.2 1356.7,717.8 1358.1,716.4 C1359.5,715.0 1361.0,713.6 1362.4,712.2 C1363.8,710.8 1365.3,709.4 1366.7,708.0 C1368.1,706.6 1369.6,705.2 1371.0,703.8 C1372.4,702.4 1373.9,701.0 1375.3,699.6 C1376.7,698.2 1378.1,696.8 1379.5,695.4 C1380.9,694.0 1382.4,692.5 1383.8,691.1 C1385.2,689.7 1386.6,688.3 1388.0,686.9 C1389.4,685.5 1390.9,684.0 1392.3,682.6 C1393.7,681.2 1395.1,679.8 1396.5,678.4 C1397.9,677.0 1399.3,675.5 1400.7,674.1 C1402.1,672.7 1403.5,671.3 1404.9,669.9 C1406.3,668.5 1407.7,667.0 1409.1,665.6 C1410.5,664.2 1411.9,662.7 1413.3,661.3 C1414.7,659.9 1416.1,658.4 1417.5,657.0 C1418.9,655.6 1420.3,654.1 1421.7,652.7 C1423.1,651.3 1424.5,649.8 1425.9,648.4 C1427.3,647.0 1428.6,645.5 1430.0,644.1 C1431.4,642.7 1432.8,641.2 1434.2,639.7 C1435.6,638.2 1436.9,636.9 1438.3,635.4 C1439.7,633.9 1441.1,632.5 1442.5,631.0 C1443.9,629.5 1445.2,628.2 1446.6,626.7 C1448.0,625.2 1449.3,623.8 1450.7,622.3 C1452.1,620.8 1453.5,619.5 1454.9,618.0 C1456.3,616.5 1457.6,615.1 1459.0,613.6 C1460.4,612.1 1461.7,610.7 1463.1,609.2 C1464.5,607.7 1465.8,606.2 1467.2,604.8 C1468.6,603.3 1470.0,602.0 1471.3,600.5 C1472.6,599.0 1473.9,597.6 1475.3,596.1 C1476.7,594.6 1478.0,593.2 1479.4,591.7 C1480.8,590.2 1482.2,588.7 1483.5,587.2 C1484.8,585.7 1486.2,584.3 1487.5,582.8 C1488.8,581.3 1490.2,579.9 1491.6,578.4 C1492.9,576.9 1494.2,575.5 1495.6,574.0 C1496.9,572.5 1498.3,571.0 1499.7,569.5 C1501.1,568.0 1502.4,566.6 1503.7,565.1 C1505.0,563.6 1506.5,562.2 1507.8,560.7 C1509.1,559.2 1510.5,557.7 1511.8,556.2 C1513.1,554.7 1514.5,553.2 1515.8,551.7 C1517.1,550.2 1518.5,548.8 1519.8,547.3 C1521.1,545.8 1522.5,544.3 1523.8,542.8 C1525.1,541.3 1526.5,539.8 1527.8,538.3 C1529.1,536.8 1530.5,535.4 1531.8,533.9 C1533.1,532.4 1534.5,530.9 1535.8,529.4 C1537.1,527.9 1538.5,526.4 1539.8,524.9 C1541.1,523.4 1542.5,521.9 1543.8,520.4 C1545.1,518.9 1546.5,517.4 1547.8,515.9 C1549.1,514.4 1550.4,512.9 1551.7,511.4 C1553.0,509.9 1554.4,508.4 1555.7,506.9 C1557.0,505.4 1558.4,503.9 1559.7,502.4 C1561.0,500.9 1562.3,499.4 1563.6,497.9 C1564.9,496.4 1566.3,494.8 1567.6,493.3 C1568.9,491.8 1570.2,490.3 1571.5,488.8 C1572.8,487.3 1574.2,485.8 1575.5,484.3 C1576.8,482.8 1578.1,481.3 1579.4,479.8 C1580.7,478.3 1582.1,476.7 1583.4,475.2 C1584.7,473.7 1586.0,472.2 1587.3,470.7 C1588.6,469.2 1589.9,467.6 1591.2,466.1 C1592.5,464.6 1593.9,463.1 1595.2,461.6 C1596.5,460.1 1597.8,458.5 1599.1,457.0 C1600.4,455.5 1601.7,454.0 1603.0,452.5 C1604.3,451.0 1605.6,449.4 1606.9,447.9 C1608.2,446.4 1609.5,444.9 1610.8,443.4 C1612.1,441.9 1613.4,440.3 1614.7,438.8 C1616.0,437.3 1617.3,435.7 1618.6,434.2 C1619.9,432.7 1621.2,431.2 1622.5,429.7 C1623.8,428.2 1625.1,426.6 1626.4,425.1 C1627.7,423.6 1629.0,422.0 1630.3,420.5 C1631.6,419.0 1632.9,417.4 1634.2,415.9 C1635.5,414.4 1636.8,412.9 1638.1,411.4 C1639.4,409.9 1640.7,408.3 1642.0,406.8 C1643.3,405.3 1644.6,403.7 1645.9,402.2 C1647.2,400.7 1648.5,399.1 1649.8,397.6 C1651.1,396.1 1652.4,394.5 1653.7,393.0 C1655.0,391.5 1656.3,389.9 1657.6,388.4 C1658.9,386.9 1660.1,385.3 1661.4,383.8 C1662.7,382.3 1664.0,380.7 1665.3,379.2 C1666.6,377.7 1667.9,376.1 1669.2,374.6 C1670.5,373.1 1671.8,371.5 1673.1,370.0 C1674.4,368.5 1675.6,366.9 1676.9,365.4 C1678.2,363.9 1679.5,362.3 1680.8,360.8 C1682.1,359.3 1683.4,357.7 1684.7,356.2 C1686.0,354.7 1687.3,353.1 1688.6,351.6 C1689.9,350.1 1691.1,348.5 1692.4,347.0 C1693.7,345.5 1695.0,343.9 1696.3,342.4 C1697.6,340.9 1698.9,339.3 1700.2,337.8 C1701.5,336.3 1702.7,334.7 1704.0,333.2 C1705.3,331.7 1706.6,330.1 1707.9,328.6 C1709.2,327.1 1710.5,325.5 1711.8,324.0 C1713.1,322.5 1714.3,320.9 1715.6,319.4 C1716.9,317.9 1718.2,316.3 1719.5,314.8 C1720.8,313.3 1722.1,311.7 1723.4,310.2 C1724.7,308.7 1725.9,307.2 1727.2,305.6 C1728.5,304.1 1729.8,302.4 1731.1,300.9 C1732.4,299.3 1733.7,297.8 1735.0,296.3 C1736.3,294.8 1737.5,293.2 1738.8,291.7 C1740.1,290.2 1741.4,288.6 1742.7,287.1 C1744.0,285.6 1745.3,284.0 1746.6,282.5 C1747.9,281.0 1749.1,279.4 1750.4,277.9 C1751.7,276.4 1753.0,274.8 1754.3,273.3 C1755.6,271.8 1756.9,270.2 1758.2,268.7 C1759.5,267.2 1760.7,265.6 1762.0,264.1 C1763.3,262.6 1764.6,261.0 1765.9,259.5 C1767.2,258.0 1768.5,256.4 1769.8,254.9 C1771.1,253.4 1772.3,251.8 1773.6,250.3 C1774.9,248.8 1776.2,247.2 1777.5,245.7 C1778.8,244.2 1780.1,242.6 1781.4,241.1 C1782.7,239.6 1784.0,238.0 1785.3,236.5 C1786.6,235.0 1787.8,233.4 1789.1,231.9 C1790.4,230.4 1791.7,228.8 1793.0,227.3 C1794.3,225.8 1795.6,224.2 1796.9,222.7 C1798.2,221.2 1799.5,219.6 1800.8,218.1 C1802.1,216.6 1803.4,215.0 1804.7,213.5 C1806.0,212.0 1807.3,210.4 1808.6,208.9 C1809.9,207.4 1811.1,205.8 1812.4,204.3 C1813.7,202.8 1815.0,201.2 1816.3,199.7 C1817.6,198.2 1818.9,196.6 1820.2,195.1 C1821.5,193.6 1822.8,192.1 1824.1,190.6 C1825.4,189.1 1826.7,187.5 1828.0,186.0 C1829.3,184.5 1830.6,182.9 1831.9,181.4 C1833.2,179.9 1834.5,178.3 1835.8,176.8 C1837.1,175.3 1838.4,173.8 1839.7,172.3 C1841.0,170.8 1842.3,169.2 1843.6,167.7 C1844.9,166.2 1846.3,164.6 1847.6,163.1 C1848.9,161.6 1850.2,160.1 1851.5,158.6 C1852.8,157.1 1854.1,155.5 1855.4,154.0 C1856.7,152.5 1858.0,150.9 1859.3,149.4 C1860.6,147.9 1862.0,146.4 1863.3,144.9 C1864.6,143.4 1865.9,141.8 1867.2,140.3 C1868.5,138.8 1869.8,137.3 1871.1,135.8 C1872.4,134.3 1873.8,132.8 1875.1,131.3 C1876.4,129.8 1877.7,128.2 1879.0,126.7 C1880.3,125.2 1881.6,123.7 1882.9,122.2 C1884.2,120.7 1885.6,119.1 1886.9,117.6 C1888.2,116.1 1890.2,113.8 1890.9,113.1" fill="none" stroke="rgb(214,24,30)" stroke-width="6" stroke-linejoin="round" stroke-linecap="round"/>
<path d="M1888.2,110.0 C1887.6,110.8 1885.9,113.4 1884.7,115.1 C1883.5,116.8 1882.4,118.4 1881.2,120.1 C1880.0,121.8 1878.9,123.4 1877.7,125.1 C1876.5,126.8 1875.4,128.5 1874.2,130.2 C1873.0,131.9 1872.0,133.5 1870.8,135.2 C1869.6,136.9 1868.5,138.5 1867.3,140.2 C1866.1,141.9 1865.0,143.5 1863.8,145.2 C1862.6,146.9 1861.4,148.5 1860.3,150.2 C1859.2,151.9 1858.1,153.5 1856.9,155.2 C1855.8,156.9 1854.6,158.5 1853.4,160.2 C1852.2,161.9 1851.1,163.5 1849.9,165.2 C1848.8,166.9 1847.7,168.5 1846.5,170.2 C1845.3,171.9 1844.2,173.5 1843.0,175.2 C1841.8,176.9 1840.8,178.5 1839.6,180.2 C1838.4,181.9 1837.2,183.5 1836.1,185.2 C1834.9,186.8 1833.8,188.4 1832.7,190.1 C1831.6,191.8 1830.4,193.4 1829.2,195.1 C1828.0,196.8 1827.0,198.4 1825.8,200.1 C1824.6,201.8 1823.4,203.3 1822.3,205.0 C1821.2,206.7 1820.1,208.3 1818.9,210.0 C1817.8,211.7 1816.6,213.3 1815.4,215.0 C1814.2,216.7 1813.1,218.2 1812.0,219.9 C1810.9,221.6 1809.8,223.2 1808.6,224.9 C1807.4,226.6 1806.2,228.2 1805.1,229.8 C1803.9,231.4 1802.8,233.0 1801.7,234.7 C1800.6,236.3 1799.5,238.0 1798.3,239.7 C1797.1,241.3 1795.9,243.0 1794.8,244.6 C1793.7,246.2 1792.6,247.8 1791.4,249.5 C1790.2,251.2 1789.1,252.8 1787.9,254.5 C1786.8,256.1 1785.6,257.8 1784.5,259.4 C1783.4,261.0 1782.2,262.7 1781.1,264.3 C1779.9,265.9 1778.8,267.6 1777.6,269.2 C1776.4,270.8 1775.3,272.5 1774.2,274.1 C1773.1,275.7 1771.9,277.4 1770.7,279.0 C1769.5,280.6 1768.5,282.3 1767.3,283.9 C1766.1,285.5 1764.9,287.2 1763.8,288.8 C1762.7,290.4 1761.6,292.1 1760.4,293.7 C1759.2,295.3 1758.1,297.0 1756.9,298.6 C1755.7,300.2 1754.6,301.8 1753.4,303.4 C1752.2,305.0 1751.2,306.7 1750.0,308.3 C1748.8,309.9 1747.7,311.6 1746.5,313.2 C1745.3,314.8 1744.2,316.4 1743.0,318.0 C1741.8,319.6 1740.8,321.3 1739.6,322.9 C1738.4,324.5 1737.3,326.2 1736.1,327.8 C1734.9,329.4 1733.8,331.0 1732.6,332.6 C1731.4,334.2 1730.3,335.8 1729.1,337.4 C1727.9,339.0 1726.8,340.7 1725.6,342.3 C1724.4,343.9 1723.3,345.5 1722.1,347.1 C1720.9,348.7 1719.8,350.4 1718.6,352.0 C1717.4,353.6 1716.3,355.2 1715.1,356.8 C1713.9,358.4 1712.8,360.0 1711.6,361.6 C1710.4,363.2 1709.3,364.8 1708.1,366.4 C1706.9,368.0 1705.8,369.6 1704.6,371.2 C1703.4,372.8 1702.2,374.4 1701.0,376.0 C1699.8,377.6 1698.7,379.2 1697.5,380.8 C1696.3,382.4 1695.2,384.0 1694.0,385.6 C1692.8,387.2 1691.6,388.8 1690.4,390.4 C1689.2,392.0 1688.0,393.6 1686.8,395.2 C1685.6,396.8 1684.5,398.4 1683.3,400.0 C1682.1,401.6 1680.9,403.2 1679.7,404.8 C1678.5,406.4 1677.3,407.9 1676.1,409.5 C1674.9,411.1 1673.7,412.7 1672.5,414.3 C1671.3,415.9 1670.1,417.5 1668.9,419.1 C1667.7,420.7 1666.5,422.2 1665.3,423.8 C1664.1,425.4 1662.9,427.0 1661.7,428.6 C1660.5,430.2 1659.3,431.7 1658.1,433.3 C1656.9,434.9 1655.6,436.5 1654.4,438.1 C1653.2,439.7 1652.0,441.2 1650.8,442.8 C1649.6,444.4 1648.3,445.9 1647.1,447.5 C1645.9,449.1 1644.7,450.7 1643.5,452.3 C1642.3,453.9 1641.0,455.4 1639.8,457.0 C1638.6,458.6 1637.3,460.1 1636.1,461.7 C1634.9,463.3 1633.6,464.8 1632.4,466.4 C1631.2,468.0 1629.9,469.5 1628.7,471.1 C1627.5,472.7 1626.2,474.2 1625.0,475.8 C1623.8,477.4 1622.5,478.9 1621.3,480.5 C1620.0,482.1 1618.8,483.6 1617.5,485.2 C1616.2,486.8 1615.0,488.3 1613.8,489.9 C1612.5,491.5 1611.2,493.1 1610.0,494.6 C1608.8,496.2 1607.5,497.6 1606.3,499.2 C1605.0,500.8 1603.8,502.3 1602.5,503.9 C1601.2,505.5 1600.0,507.1 1598.7,508.6 C1597.4,510.2 1596.2,511.7 1594.9,513.2 C1593.6,514.8 1592.4,516.4 1591.1,517.9 C1589.8,519.4 1588.6,521.0 1587.3,522.5 C1586.0,524.0 1584.8,525.7 1583.5,527.2 C1582.2,528.8 1581.0,530.3 1579.7,531.8 C1578.4,533.3 1577.2,534.8 1575.9,536.4 C1574.6,538.0 1573.3,539.5 1572.0,541.1 C1570.7,542.7 1569.5,544.2 1568.2,545.7 C1566.9,547.2 1565.6,548.8 1564.3,550.3 C1563.0,551.8 1561.7,553.4 1560.4,554.9 C1559.1,556.4 1557.9,558.0 1556.6,559.5 C1555.3,561.0 1554.0,562.6 1552.7,564.1 C1551.4,565.6 1550.1,567.2 1548.8,568.7 C1547.5,570.2 1546.2,571.8 1544.9,573.3 C1543.6,574.8 1542.3,576.3 1541.0,577.8 C1539.7,579.3 1538.3,580.9 1537.0,582.4 C1535.7,583.9 1534.4,585.5 1533.1,587.0 C1531.8,588.5 1530.5,590.0 1529.2,591.5 C1527.9,593.0 1526.5,594.6 1525.2,596.1 C1523.9,597.6 1522.6,599.2 1521.3,600.7 C1520.0,602.2 1518.6,603.7 1517.3,605.2 C1516.0,606.7 1514.7,608.2 1513.4,609.7 C1512.1,611.2 1510.7,612.8 1509.4,614.3 C1508.1,615.8 1506.7,617.3 1505.4,618.8 C1504.1,620.3 1502.7,621.8 1501.4,623.3 C1500.1,624.8 1498.7,626.3 1497.4,627.8 C1496.1,629.3 1494.7,630.8 1493.4,632.3 C1492.1,633.8 1490.7,635.3 1489.4,636.8 C1488.1,638.3 1486.7,639.8 1485.4,641.3 C1484.1,642.8 1482.8,644.3 1481.4,645.8 C1480.1,647.3 1478.7,648.8 1477.3,650.3 C1475.9,651.8 1474.6,653.3 1473.3,654.8 C1472.0,656.3 1470.6,657.8 1469.3,659.3 C1468.0,660.8 1466.5,662.2 1465.2,663.7 C1463.9,665.2 1462.6,666.7 1461.2,668.2 C1459.8,669.7 1458.5,671.2 1457.1,672.7 C1455.7,674.2 1454.3,675.6 1453.0,677.1 C1451.7,678.6 1450.3,680.1 1449.0,681.6 C1447.7,683.1 1446.3,684.5 1444.9,686.0 C1443.5,687.5 1442.2,688.9 1440.8,690.4 C1439.4,691.9 1438.1,693.3 1436.7,694.8 C1435.3,696.3 1434.0,697.8 1432.6,699.3 C1431.2,700.8 1429.9,702.2 1428.5,703.7 C1427.1,705.2 1425.8,706.6 1424.4,708.1 C1423.0,709.6 1421.7,711.0 1420.3,712.5 C1418.9,714.0 1417.5,715.4 1416.1,716.9 C1414.7,718.4 1413.4,719.8 1412.0,721.3 C1410.6,722.8 1409.3,724.1 1407.9,725.6 C1406.5,727.1 1405.1,728.5 1403.7,730.0 C1402.3,731.5 1401.0,732.9 1399.6,734.4 C1398.2,735.9 1396.8,737.2 1395.4,738.7 C1394.0,740.2 1392.7,741.6 1391.3,743.1 C1389.9,744.6 1388.5,746.0 1387.1,747.5 C1385.7,749.0 1384.3,750.4 1382.9,751.8 C1381.5,753.2 1380.2,754.6 1378.8,756.1 C1377.4,757.6 1376.0,759.0 1374.6,760.5 C1373.2,762.0 1371.8,763.4 1370.4,764.8 C1369.0,766.2 1367.6,767.7 1366.2,769.1 C1364.8,770.5 1363.4,772.0 1362.0,773.4 C1360.6,774.8 1359.2,776.3 1357.8,777.7 C1356.4,779.1 1355.0,780.6 1353.6,782.0 C1352.2,783.4 1350.8,784.9 1349.4,786.3 C1348.0,787.7 1346.6,789.2 1345.2,790.6 C1343.8,792.0 1342.4,793.5 1341.0,794.9 C1339.6,796.3 1338.2,797.7 1336.8,799.1 C1335.4,800.5 1334.0,802.0 1332.6,803.4 C1331.2,804.8 1329.7,806.2 1328.3,807.6 C1326.9,809.0 1325.5,810.5 1324.1,811.9 C1322.7,813.3 1321.3,814.7 1319.9,816.1 C1318.5,817.5 1317.0,819.0 1315.6,820.4 C1314.2,821.8 1312.8,823.2 1311.4,824.6 C1310.0,826.0 1308.5,827.4 1307.1,828.8 C1305.7,830.2 1304.3,831.6 1302.9,833.0 C1301.5,834.4 1300.0,835.8 1298.6,837.2 C1297.2,838.6 1295.8,840.1 1294.4,841.5 C1293.0,842.9 1291.5,844.2 1290.1,845.6 C1288.7,847.0 1287.3,848.4 1285.9,849.8 C1284.5,851.2 1283.0,852.6 1281.6,854.0 C1280.2,855.4 1278.7,856.8 1277.3,858.2 C1275.9,859.6 1274.4,861.0 1273.0,862.4 C1271.6,863.8 1270.2,865.1 1268.8,866.5 C1267.4,867.9 1265.9,869.3 1264.5,870.7 C1263.1,872.1 1261.6,873.4 1260.2,874.8 C1258.8,876.2 1257.3,877.6 1255.9,879.0 C1254.5,880.4 1253.0,881.7 1251.6,883.1 C1250.2,884.5 1248.8,885.8 1247.3,887.2 C1245.8,888.6 1244.4,889.9 1242.9,891.3 C1241.5,892.7 1240.0,894.0 1238.6,895.4 C1237.2,896.8 1235.8,898.1 1234.3,899.5 C1232.8,900.9 1231.4,902.2 1229.9,903.6 C1228.5,905.0 1227.0,906.3 1225.6,907.7 C1224.1,909.1 1222.7,910.4 1221.2,911.8 C1219.7,913.1 1218.3,914.4 1216.8,915.8 C1215.3,917.1 1213.9,918.5 1212.4,919.9 C1210.9,921.3 1209.5,922.6 1208.0,924.0 C1206.5,925.4 1205.0,926.7 1203.5,928.0 C1202.0,929.3 1200.6,930.6 1199.1,932.0 C1197.6,933.4 1196.1,934.8 1194.6,936.1 C1193.1,937.5 1191.7,938.8 1190.2,940.1 C1188.7,941.4 1187.2,942.8 1185.7,944.1 C1184.2,945.4 1182.7,946.8 1181.2,948.1 C1179.7,949.4 1178.1,950.8 1176.6,952.1 C1175.1,953.4 1173.6,954.7 1172.1,956.0 C1170.6,957.3 1169.0,958.7 1167.5,960.0 C1166.0,961.3 1164.4,962.7 1162.9,964.0 C1161.4,965.3 1159.8,966.6 1158.3,967.9 C1156.8,969.2 1155.2,970.6 1153.7,971.9 C1152.2,973.2 1150.5,974.5 1149.0,975.8 C1147.5,977.1 1146.0,978.4 1144.4,979.7 C1142.9,981.0 1141.3,982.3 1139.7,983.6 C1138.1,984.9 1136.6,986.2 1135.0,987.5 C1133.4,988.8 1131.8,990.0 1130.2,991.3 C1128.6,992.6 1127.1,993.8 1125.5,995.1 C1123.9,996.4 1122.3,997.6 1120.7,998.9 C1119.1,1000.2 1117.5,1001.5 1115.9,1002.7 C1114.3,1004.0 1112.6,1005.2 1111.0,1006.4 C1109.4,1007.6 1107.8,1008.8 1106.2,1010.0 C1104.6,1011.2 1102.9,1012.5 1101.3,1013.7 C1099.7,1014.9 1098.0,1016.0 1096.4,1017.2 C1094.8,1018.4 1093.2,1019.5 1091.5,1020.7 C1089.8,1021.9 1088.2,1023.1 1086.5,1024.2 C1084.8,1025.3 1083.2,1026.5 1081.5,1027.6 C1079.8,1028.7 1078.2,1029.8 1076.5,1030.9 C1074.8,1032.0 1073.1,1033.1 1071.4,1034.2 C1069.7,1035.3 1068.1,1036.4 1066.4,1037.4 C1064.7,1038.5 1063.0,1039.5 1061.3,1040.5 C1059.6,1041.5 1057.9,1042.6 1056.2,1043.6 C1054.5,1044.6 1052.7,1045.5 1051.0,1046.5 C1049.3,1047.5 1047.5,1048.5 1045.8,1049.4 C1044.1,1050.4 1042.3,1051.3 1040.6,1052.2 C1038.9,1053.1 1037.2,1054.0 1035.4,1054.9 C1033.7,1055.8 1031.9,1056.7 1030.1,1057.5 C1028.3,1058.3 1026.6,1059.2 1024.8,1060.0 C1023.0,1060.8 1021.2,1061.7 1019.4,1062.5 C1017.6,1063.3 1015.9,1064.0 1014.1,1064.8 C1012.3,1065.5 1010.5,1066.3 1008.7,1067.0 C1006.9,1067.7 1005.1,1068.5 1003.3,1069.2 C1001.5,1069.9 999.6,1070.6 997.8,1071.3 C996.0,1072.0 994.1,1072.6 992.3,1073.3 C990.5,1074.0 988.6,1074.6 986.8,1075.2 C985.0,1075.8 983.1,1076.4 981.3,1077.0 C979.5,1077.6 977.6,1078.2 975.8,1078.8 C973.9,1079.4 972.1,1080.0 970.2,1080.5 C968.3,1081.0 966.5,1081.6 964.6,1082.1 C962.7,1082.6 960.9,1083.1 959.0,1083.6 C957.1,1084.1 955.2,1084.6 953.3,1085.1 C951.4,1085.6 949.6,1086.1 947.7,1086.6 C945.8,1087.1 943.9,1087.5 942.0,1088.0 C940.1,1088.5 938.2,1088.9 936.3,1089.3 C934.4,1089.7 932.4,1090.1 930.5,1090.5 C928.6,1090.9 926.7,1091.4 924.8,1091.8 C922.9,1092.2 920.9,1092.5 919.0,1092.9 C917.1,1093.3 915.1,1093.7 913.2,1094.1 C911.3,1094.5 909.3,1094.8 907.4,1095.1 C905.5,1095.4 903.5,1095.8 901.6,1096.2 C899.7,1096.6 897.8,1096.9 895.8,1097.2 C893.8,1097.5 891.9,1097.8 889.9,1098.1 C887.9,1098.4 886.0,1098.8 884.0,1099.1 C882.0,1099.4 880.1,1099.7 878.1,1100.0 C876.1,1100.3 874.2,1100.6 872.2,1100.9 C870.2,1101.2 868.3,1101.4 866.3,1101.7 C864.3,1102.0 862.4,1102.2 860.4,1102.5 C858.4,1102.8 856.5,1103.1 854.5,1103.4 C852.5,1103.7 850.5,1103.8 848.5,1104.1 C846.5,1104.3 844.5,1104.6 842.5,1104.9 C840.5,1105.2 838.6,1105.5 836.6,1105.7 C834.6,1106.0 832.6,1106.2 830.6,1106.4 C828.6,1106.7 826.6,1107.0 824.6,1107.2 C822.6,1107.5 820.6,1107.7 818.6,1107.9 C816.6,1108.2 814.6,1108.5 812.6,1108.7 C810.6,1109.0 808.6,1109.2 806.6,1109.4 C804.6,1109.7 802.5,1110.0 800.5,1110.2 C798.5,1110.5 796.5,1110.7 794.5,1110.9 C792.5,1111.2 790.5,1111.5 788.5,1111.7 C786.5,1112.0 784.4,1112.2 782.4,1112.4 C780.4,1112.7 778.4,1112.9 776.4,1113.2 C774.4,1113.5 772.3,1113.7 770.3,1114.0 C768.3,1114.3 766.3,1114.5 764.3,1114.8 C762.3,1115.1 760.2,1115.3 758.2,1115.6 C756.2,1115.9 754.2,1116.1 752.2,1116.4 C750.2,1116.7 748.1,1116.9 746.1,1117.2 C744.1,1117.5 742.0,1117.7 740.0,1118.0 C738.0,1118.3 736.0,1118.5 734.0,1118.8 C732.0,1119.1 729.9,1119.3 727.9,1119.6 C725.9,1119.9 723.8,1120.2 721.8,1120.5 C719.8,1120.8 717.8,1121.0 715.8,1121.3 C713.8,1121.6 711.7,1121.9 709.7,1122.2 C707.7,1122.5 705.7,1122.7 703.7,1123.0 C701.7,1123.3 699.6,1123.6 697.6,1123.9 C695.6,1124.2 693.6,1124.4 691.6,1124.7 C689.6,1125.0 687.5,1125.3 685.5,1125.6 C683.5,1125.9 681.5,1126.2 679.5,1126.5 C677.5,1126.8 675.4,1127.1 673.4,1127.4 C671.4,1127.7 669.4,1128.0 667.4,1128.3 C665.4,1128.6 663.4,1128.9 661.4,1129.2 C659.4,1129.5 657.4,1129.8 655.4,1130.1 C653.4,1130.4 651.4,1130.7 649.4,1131.0 C647.4,1131.3 645.4,1131.6 643.4,1131.9 C641.4,1132.2 639.4,1132.6 637.4,1132.9 C635.4,1133.2 633.4,1133.5 631.4,1133.8 C629.4,1134.1 627.4,1134.5 625.4,1134.8 C623.4,1135.1 621.5,1135.4 619.5,1135.7 C617.5,1136.0 615.5,1136.4 613.5,1136.7 C611.5,1137.0 609.6,1137.3 607.6,1137.6 C605.6,1137.9 603.6,1138.3 601.6,1138.6 C599.6,1138.9 597.7,1139.3 595.7,1139.6 C593.7,1139.9 591.8,1140.3 589.8,1140.6 C587.8,1140.9 585.8,1141.3 583.9,1141.6 C582.0,1141.9 580.0,1142.3 578.1,1142.6 C576.2,1142.9 574.2,1143.2 572.2,1143.6 C570.2,1143.9 568.3,1144.3 566.4,1144.7 C564.5,1145.1 561.6,1145.5 560.6,1145.7" fill="none" stroke="rgb(214,24,30)" stroke-width="6" stroke-linejoin="round" stroke-linecap="round"/>
<path d="M801.0,998.4 C815.5,998.4 873.5,998.4 888.0,998.4" fill="none" stroke="#000" stroke-width="6" stroke-linejoin="round" stroke-linecap="round"/>
<path d="M812.0,1041.0 C824.7,1034.0 875.3,1006.0 888.0,999.0" fill="none" stroke="#000" stroke-width="6" stroke-linejoin="round" stroke-linecap="round"/>
<path d="M799.4,1081.8 C788.5,1087.8 744.9,1111.8 734.0,1117.8" fill="none" stroke="#000" stroke-width="6" stroke-linejoin="round" stroke-linecap="round"/>
<path d="M734.0,1117.8 C746.2,1118.9 795.2,1123.2 807.5,1124.3" fill="none" stroke="#000" stroke-width="6" stroke-linejoin="round" stroke-linecap="round"/>
<path d="M479.0,2332.0 C480.4,2330.3 482.7,2324.9 487.5,2322.0 C492.3,2319.1 501.2,2317.9 507.7,2314.8 C514.2,2311.7 518.6,2305.8 526.5,2303.2 C534.4,2300.5 545.7,2299.7 555.3,2298.9 C564.9,2298.1 574.4,2298.4 584.0,2298.2 C593.6,2298.0 603.4,2298.0 613.0,2297.5 C622.6,2297.0 634.5,2296.2 641.7,2295.3 C648.9,2294.5 649.7,2293.0 656.1,2292.4 C662.5,2291.8 672.7,2291.5 680.0,2291.7 C687.3,2291.8 693.0,2292.8 700.0,2293.3 C707.0,2293.8 715.3,2292.9 722.0,2294.7 C728.7,2296.5 733.7,2301.8 740.0,2304.0 C746.3,2306.2 753.0,2308.3 760.0,2308.0 C767.0,2307.7 774.7,2304.7 782.0,2302.0 C789.3,2299.3 798.0,2292.7 804.0,2292.0 C810.0,2291.3 813.2,2296.5 818.0,2298.0 C822.8,2299.5 827.7,2301.3 833.0,2301.0 C838.3,2300.7 843.8,2297.5 850.0,2296.0 C856.2,2294.5 863.3,2292.8 870.0,2292.0 C876.7,2291.2 883.3,2291.5 890.0,2291.0 C896.7,2290.5 904.2,2290.2 910.0,2289.0 C915.8,2287.8 920.8,2285.8 925.0,2284.0 C929.2,2282.2 930.8,2280.6 935.0,2278.0 C939.2,2275.4 943.2,2272.6 950.2,2268.5 C957.2,2264.4 969.1,2258.1 977.2,2253.4 C985.3,2248.7 993.4,2245.3 998.8,2240.4 C1004.2,2235.5 1006.0,2229.9 1009.6,2224.2 C1013.2,2218.4 1016.8,2212.6 1020.4,2205.9 C1024.0,2199.2 1027.6,2193.0 1031.2,2184.3 C1034.8,2175.7 1038.4,2164.4 1042.0,2154.0 C1045.6,2143.6 1050.1,2130.6 1052.9,2121.6 C1055.7,2112.6 1056.8,2110.3 1059.0,2100.0 C1061.2,2089.7 1062.8,2077.5 1066.0,2060.0 C1069.2,2042.5 1073.8,2018.8 1078.4,1995.2 C1083.0,1971.6 1089.2,1940.2 1093.8,1918.4 C1098.4,1896.6 1102.0,1877.8 1106.1,1864.5 C1110.2,1851.2 1113.8,1844.8 1118.4,1838.4 C1123.0,1832.0 1128.2,1828.4 1133.8,1826.1 C1139.4,1823.8 1146.6,1826.6 1152.2,1824.6 C1157.8,1822.5 1163.0,1818.7 1167.6,1813.8 C1172.2,1808.9 1176.2,1803.2 1179.9,1795.4 C1183.6,1787.6 1185.3,1777.7 1190.0,1767.0 C1194.7,1756.3 1202.0,1740.9 1208.0,1731.0 C1214.0,1721.1 1220.0,1715.2 1226.0,1707.7 C1232.0,1700.2 1238.0,1691.1 1244.0,1686.0 C1250.0,1680.9 1256.0,1678.5 1262.0,1677.0 C1268.0,1675.5 1274.0,1678.2 1280.0,1677.0 C1286.0,1675.8 1292.0,1672.6 1298.0,1669.9 C1304.0,1667.2 1309.4,1665.1 1316.0,1660.8 C1322.6,1656.5 1330.2,1649.0 1337.7,1644.0 C1345.2,1639.0 1354.0,1633.7 1361.0,1631.0 C1368.0,1628.3 1373.5,1628.0 1380.0,1628.0 C1386.5,1628.0 1393.8,1632.8 1400.0,1631.0 C1406.2,1629.2 1412.1,1620.5 1417.0,1617.0 C1421.9,1613.5 1425.1,1613.0 1429.6,1609.7 C1434.1,1606.4 1438.6,1600.6 1444.0,1597.0 C1449.4,1593.4 1454.5,1593.7 1462.0,1588.0 C1469.5,1582.3 1481.5,1568.2 1489.0,1562.8 C1496.5,1557.4 1499.5,1560.4 1507.0,1555.6 C1514.5,1550.8 1525.0,1541.2 1534.0,1534.0 C1543.0,1526.8 1552.0,1519.6 1561.0,1512.4 C1570.0,1505.2 1581.5,1496.5 1588.0,1490.8 C1594.5,1485.1 1595.0,1482.5 1600.0,1478.0 C1605.0,1473.5 1612.0,1467.3 1618.0,1463.7 C1624.0,1460.1 1630.0,1458.3 1636.0,1456.5 C1642.0,1454.7 1648.0,1455.9 1654.0,1452.9 C1660.0,1449.9 1667.2,1443.3 1672.0,1438.5 C1676.8,1433.7 1678.3,1429.4 1682.8,1424.0 C1687.3,1418.6 1693.3,1411.1 1699.0,1406.0 C1704.7,1400.9 1711.0,1398.0 1717.0,1393.5 C1723.0,1389.0 1729.0,1383.8 1735.0,1379.0 C1741.0,1374.2 1747.0,1369.4 1753.0,1364.6 C1759.0,1359.8 1765.9,1355.3 1771.0,1350.2 C1776.1,1345.1 1779.2,1340.0 1783.7,1334.0 C1788.2,1328.0 1793.2,1319.9 1798.0,1314.2 C1802.8,1308.5 1808.0,1302.2 1812.5,1299.8 C1817.0,1297.4 1820.8,1298.0 1825.0,1299.8 C1829.2,1301.6 1834.4,1306.4 1837.7,1310.6 C1841.0,1314.8 1843.2,1315.1 1845.0,1325.0 C1846.8,1334.9 1847.6,1353.5 1848.5,1370.0 C1849.4,1386.5 1850.1,1409.3 1850.4,1424.0 C1850.7,1438.7 1850.4,1452.3 1850.4,1458.0 M1850.4,1458.0 C1850.8,1459.0 1852.6,1463.0 1853.0,1464.0" fill="none" stroke="#000" stroke-width="6" stroke-linejoin="round" stroke-linecap="round"/>
<path d="M1857.0,1519.3 C1857.0,1525.2 1857.0,1548.6 1857.0,1554.5 M1857.0,1554.5 C1853.2,1554.7 1846.8,1555.0 1834.0,1555.5 C1821.2,1556.0 1792.0,1555.7 1780.0,1557.3 C1768.0,1558.9 1769.5,1562.3 1762.0,1565.0 C1754.5,1567.7 1744.0,1573.0 1735.0,1573.5 C1726.0,1574.0 1717.0,1570.7 1708.0,1568.0 C1699.0,1565.3 1689.0,1558.8 1681.0,1557.3 C1673.0,1555.8 1666.5,1558.0 1660.0,1559.2 C1653.5,1560.4 1648.0,1563.1 1642.0,1564.6 C1636.0,1566.1 1630.0,1566.4 1624.0,1568.2 C1618.0,1570.0 1615.0,1574.2 1606.0,1575.4 C1597.0,1576.6 1579.6,1575.4 1570.0,1575.4 C1560.4,1575.4 1556.0,1573.9 1548.5,1575.4 C1541.0,1576.9 1531.9,1581.7 1525.0,1584.4 C1518.1,1587.1 1512.7,1588.1 1507.0,1591.7 C1501.3,1595.3 1497.1,1604.8 1490.8,1606.0 C1484.5,1607.2 1474.9,1600.4 1469.2,1598.9 C1463.5,1597.4 1460.8,1596.8 1456.6,1597.0 C1452.4,1597.2 1450.6,1596.0 1444.0,1600.0 C1437.4,1604.0 1424.3,1616.1 1417.0,1621.0 C1409.7,1625.9 1407.2,1628.4 1400.0,1629.3 C1392.8,1630.2 1380.2,1626.8 1373.7,1626.6 C1367.2,1626.4 1367.0,1626.0 1361.0,1628.4 C1355.0,1630.8 1345.2,1636.2 1337.7,1641.0 C1330.2,1645.8 1322.6,1652.7 1316.0,1657.2 C1309.4,1661.7 1304.9,1666.8 1298.0,1668.0 C1291.1,1669.2 1280.7,1664.4 1274.7,1664.4 C1268.7,1664.4 1266.2,1665.6 1262.0,1668.0 C1257.8,1670.4 1255.5,1675.6 1249.5,1678.9 C1243.5,1682.2 1233.5,1684.3 1226.0,1687.9 C1218.5,1691.5 1210.4,1698.0 1204.4,1700.5 C1198.4,1703.0 1196.0,1703.7 1190.0,1703.2 C1184.0,1702.8 1174.4,1698.0 1168.4,1697.8 C1162.4,1697.6 1158.8,1698.8 1154.0,1702.3 C1149.2,1705.8 1144.1,1710.7 1139.6,1718.5 C1135.1,1726.3 1130.6,1738.8 1127.0,1749.0 C1123.4,1759.2 1121.0,1771.0 1118.0,1780.0 C1115.0,1789.0 1112.5,1790.2 1109.0,1803.0 C1105.5,1815.8 1101.0,1835.2 1097.0,1857.0 C1093.0,1878.8 1090.8,1903.3 1085.0,1934.0 C1079.2,1964.7 1069.5,2011.5 1062.0,2041.0 C1054.5,2070.5 1045.0,2095.0 1039.9,2110.8 C1034.8,2126.6 1034.5,2127.0 1031.2,2135.7 C1028.0,2144.3 1024.0,2153.3 1020.4,2162.7 C1016.8,2172.0 1013.2,2183.4 1009.6,2191.8 C1006.0,2200.2 1002.4,2207.5 998.8,2213.4 C995.2,2219.3 993.4,2221.2 988.0,2227.5 C982.6,2233.8 973.6,2244.5 966.4,2251.3 C959.2,2258.1 950.8,2264.0 944.8,2268.5 C938.8,2273.0 934.5,2277.1 930.5,2278.4 C926.5,2279.7 925.0,2277.0 921.0,2276.5 C917.0,2276.0 912.2,2273.9 906.5,2275.5 C900.8,2277.1 893.1,2282.3 887.0,2286.0 C880.9,2289.7 874.8,2294.1 870.0,2297.6 C865.2,2301.1 863.2,2302.8 858.0,2307.0 C852.8,2311.2 845.3,2318.7 839.0,2322.6 C832.7,2326.5 823.4,2328.7 820.0,2330.3 C816.6,2331.9 823.5,2333.1 818.5,2332.0 C813.5,2330.9 799.3,2325.4 789.7,2323.5 C780.1,2321.6 769.5,2321.6 760.9,2320.6 C752.2,2319.6 744.5,2319.6 737.8,2317.7 C731.1,2315.8 727.5,2310.2 720.5,2309.0 C713.5,2307.8 702.9,2309.4 696.0,2310.5 C689.1,2311.6 683.8,2313.5 679.3,2315.3 C674.8,2317.1 673.5,2322.5 668.7,2321.1 C663.9,2319.7 662.0,2309.5 650.5,2306.7 C639.0,2303.8 613.8,2304.4 600.0,2304.0 C586.2,2303.6 573.3,2304.0 568.0,2304.0" fill="none" stroke="#000" stroke-width="6" stroke-linejoin="round" stroke-linecap="round"/>
<path d="M453.7,2340.7 C456.2,2339.0 463.2,2333.7 468.8,2330.6 C474.4,2327.5 478.9,2323.7 487.5,2322.0 C496.1,2320.3 511.8,2321.9 520.7,2320.5 C529.6,2319.1 535.1,2315.7 540.9,2313.3 C546.7,2310.9 548.1,2307.5 555.3,2306.1 C562.5,2304.7 574.4,2305.0 584.0,2304.7 C593.6,2304.3 602.1,2304.2 612.9,2304.0 C623.7,2303.8 637.8,2303.6 649.0,2303.2 C660.2,2302.8 671.0,2301.8 680.0,2301.5 C689.0,2301.2 693.3,2300.6 703.2,2301.2 C713.1,2301.8 729.6,2303.2 739.2,2304.8 C748.8,2306.4 753.7,2310.8 760.9,2310.5 C768.1,2310.2 775.3,2306.4 782.5,2303.3 C789.7,2300.2 798.0,2292.8 804.0,2291.8 C810.0,2290.8 813.7,2296.2 818.5,2297.5 C823.3,2298.8 827.9,2300.3 832.9,2299.7 C837.9,2299.1 842.9,2295.4 848.8,2293.8 C854.6,2292.2 861.6,2290.5 868.0,2290.0 C874.4,2289.5 879.2,2291.5 887.2,2291.0 C895.2,2290.5 908.0,2287.5 916.0,2287.0 C924.0,2286.5 930.2,2288.3 935.0,2288.0 C939.8,2287.7 941.6,2287.3 945.0,2285.0 C948.4,2282.7 950.2,2279.5 955.6,2274.0 C961.0,2268.5 970.0,2260.5 977.2,2252.0 C984.4,2243.5 993.4,2231.4 998.8,2223.2 C1004.2,2215.0 1006.0,2210.5 1009.6,2202.6 C1013.2,2194.7 1016.8,2185.5 1020.4,2175.6 C1024.0,2165.7 1027.6,2154.0 1031.2,2143.2 C1034.8,2132.4 1037.5,2127.8 1042.0,2110.8 C1046.5,2093.8 1051.8,2070.8 1058.4,2041.3 C1065.0,2011.8 1075.6,1964.4 1081.5,1933.7 C1087.4,1903.0 1089.7,1878.7 1093.8,1856.9 C1097.9,1835.1 1101.5,1818.1 1106.1,1803.1 C1110.7,1788.1 1116.6,1776.3 1121.6,1767.0 C1126.6,1757.7 1130.6,1751.2 1136.0,1747.3 C1141.4,1743.4 1148.0,1744.9 1154.0,1743.7 C1160.0,1742.5 1166.0,1741.5 1172.0,1740.0 C1178.0,1738.5 1184.0,1737.7 1190.0,1734.7 C1196.0,1731.7 1202.0,1725.3 1208.0,1722.0 C1214.0,1718.7 1220.0,1717.6 1226.0,1714.9 C1232.0,1712.2 1238.0,1708.3 1244.0,1705.9 C1250.0,1703.5 1254.5,1702.2 1262.0,1700.5 C1269.5,1698.8 1281.5,1696.3 1289.0,1696.0 C1296.5,1695.7 1301.0,1698.9 1307.0,1698.7 C1313.0,1698.5 1317.5,1697.1 1325.0,1695.0 C1332.5,1692.9 1344.5,1689.6 1352.0,1686.0 C1359.5,1682.4 1363.2,1677.5 1370.0,1673.5 C1376.8,1669.5 1384.7,1664.7 1393.0,1662.0 C1401.3,1659.3 1412.0,1658.0 1420.0,1657.6 C1428.0,1657.2 1435.5,1662.8 1441.0,1659.6 C1446.5,1656.4 1448.9,1645.6 1453.0,1638.5 C1457.1,1631.4 1461.1,1623.5 1465.6,1616.9 C1470.1,1610.3 1474.6,1605.5 1480.0,1598.9 C1485.4,1592.3 1492.0,1584.4 1498.0,1577.2 C1504.0,1570.0 1510.0,1561.9 1516.0,1555.6 C1522.0,1549.3 1526.5,1545.1 1534.0,1539.4 C1541.5,1533.7 1552.0,1528.0 1561.0,1521.4 C1570.0,1514.8 1581.5,1504.6 1588.0,1499.8 C1594.5,1495.0 1594.9,1495.8 1600.0,1492.5 C1605.1,1489.2 1614.2,1483.0 1618.7,1480.0 C1623.2,1477.0 1621.1,1479.9 1627.0,1474.5 C1632.9,1469.1 1646.5,1452.9 1654.0,1447.5 C1661.5,1442.1 1664.5,1444.7 1672.0,1442.0 C1679.5,1439.3 1691.5,1435.5 1699.0,1431.3 C1706.5,1427.1 1711.9,1422.3 1717.0,1416.9 C1722.1,1411.5 1723.7,1404.9 1729.7,1398.9 C1735.7,1392.9 1746.1,1386.5 1753.0,1380.8 C1759.9,1375.1 1765.0,1369.1 1771.0,1364.6 C1777.0,1360.1 1783.0,1358.3 1789.0,1353.8 C1795.0,1349.3 1801.0,1343.3 1807.0,1337.6 C1813.0,1331.9 1819.9,1324.4 1825.0,1319.6 C1830.1,1314.8 1834.1,1310.9 1837.7,1308.8 C1841.3,1306.7 1844.3,1305.8 1846.7,1307.0 C1849.1,1308.2 1850.7,1308.5 1852.0,1316.0 C1853.3,1323.5 1853.9,1334.5 1854.5,1352.0 C1855.1,1369.5 1855.6,1409.5 1855.8,1421.0 M1855.8,1421.0 C1857.3,1422.1 1861.4,1425.6 1864.8,1427.5 C1868.2,1429.4 1873.9,1430.2 1876.4,1432.5 C1878.9,1434.8 1878.6,1437.4 1880.0,1441.0 C1881.4,1444.6 1883.5,1448.8 1885.0,1454.0 C1886.5,1459.2 1887.7,1466.0 1888.7,1472.0 C1889.7,1478.0 1890.9,1486.1 1891.0,1490.0 C1891.1,1493.9 1889.7,1494.6 1889.4,1495.5" fill="none" stroke="rgb(214,24,30)" stroke-width="6" stroke-linejoin="round" stroke-linecap="round"/>
<path d="M1856.2,1421.0 C1856.2,1437.3 1856.2,1502.3 1856.2,1518.6 M1856.2,1518.6 C1852.5,1519.0 1842.2,1519.1 1834.0,1521.3 C1825.8,1523.5 1816.0,1527.8 1807.0,1532.0 C1798.0,1536.2 1787.5,1542.9 1780.0,1546.5 C1772.5,1550.1 1769.5,1551.9 1762.0,1553.7 C1754.5,1555.5 1744.0,1555.5 1735.0,1557.3 C1726.0,1559.1 1715.5,1562.7 1708.0,1564.5 C1700.5,1566.3 1695.0,1568.3 1690.0,1568.0 C1685.0,1567.7 1681.5,1563.1 1678.0,1562.8 C1674.5,1562.5 1673.5,1563.1 1669.0,1566.4 C1664.5,1569.7 1657.0,1579.0 1651.0,1582.6 C1645.0,1586.2 1639.0,1587.7 1633.0,1588.0 C1627.0,1588.3 1621.0,1585.0 1615.0,1584.4 C1609.0,1583.8 1603.0,1582.3 1597.0,1584.4 C1591.0,1586.5 1585.0,1592.5 1579.0,1597.0 C1573.0,1601.5 1567.0,1607.9 1561.0,1611.5 C1555.0,1615.1 1550.5,1616.6 1543.0,1618.7 C1535.5,1620.8 1525.0,1622.2 1516.0,1624.0 C1507.0,1625.8 1498.0,1626.5 1489.0,1629.5 C1480.0,1632.5 1470.0,1637.0 1462.0,1642.0 C1454.0,1647.0 1446.3,1654.9 1441.0,1659.6 C1435.7,1664.3 1435.2,1667.9 1430.0,1670.0 C1424.8,1672.1 1416.2,1673.0 1410.0,1672.0 C1403.8,1671.0 1399.7,1662.2 1393.0,1664.0 C1386.3,1665.8 1376.8,1678.5 1370.0,1682.5 C1363.2,1686.5 1358.0,1685.8 1352.0,1687.9 C1346.0,1690.0 1340.0,1692.6 1334.0,1695.0 C1328.0,1697.4 1322.0,1699.9 1316.0,1702.3 C1310.0,1704.7 1304.0,1706.8 1298.0,1709.5 C1292.0,1712.2 1287.5,1715.2 1280.0,1718.5 C1272.5,1721.8 1260.2,1725.7 1253.0,1729.3 C1245.8,1732.9 1242.0,1733.7 1236.9,1740.0 C1231.8,1746.3 1227.0,1757.0 1222.5,1767.0 C1218.0,1777.0 1212.9,1790.2 1209.9,1800.0 C1206.9,1809.8 1206.7,1814.1 1204.5,1826.1 C1202.3,1838.1 1199.4,1856.8 1196.8,1872.2 C1194.2,1887.6 1191.9,1905.1 1189.1,1918.4 C1186.3,1931.7 1183.5,1944.3 1179.9,1952.2 C1176.3,1960.1 1171.7,1967.8 1167.6,1966.0 C1163.5,1964.2 1159.4,1950.6 1155.3,1941.4 C1151.2,1932.2 1147.1,1921.2 1143.0,1910.7 C1138.9,1900.2 1135.3,1885.6 1130.7,1878.4 C1126.1,1871.2 1119.4,1869.1 1115.3,1867.6 C1111.2,1866.1 1108.0,1868.4 1106.0,1869.2 C1104.0,1870.0 1105.8,1864.0 1103.0,1872.2 C1100.2,1880.4 1094.6,1895.3 1089.2,1918.4 C1083.8,1941.5 1076.8,1977.6 1070.7,2010.6 C1064.7,2043.6 1057.7,2090.5 1052.9,2116.2 C1048.1,2141.9 1045.6,2150.4 1042.0,2164.8 C1038.4,2179.2 1034.8,2191.4 1031.2,2202.6 C1027.6,2213.8 1024.0,2224.1 1020.4,2231.8 C1016.8,2239.6 1013.2,2245.5 1009.6,2249.1 C1006.0,2252.7 1003.7,2251.9 998.8,2253.4 C993.9,2254.9 985.0,2255.4 980.0,2258.0 C975.0,2260.6 973.1,2264.6 968.9,2268.8 C964.6,2273.0 959.3,2279.0 954.5,2283.2 C949.7,2287.4 944.8,2290.8 940.0,2293.8 C935.2,2296.9 931.3,2300.1 925.7,2301.5 C920.1,2302.9 912.9,2301.5 906.5,2302.4 C900.1,2303.3 894.0,2305.1 887.2,2307.2 C880.5,2309.3 870.8,2312.1 866.0,2315.0 C861.2,2317.9 861.3,2320.3 858.4,2324.5 C855.5,2328.7 853.0,2334.4 848.8,2340.0 C844.6,2345.6 838.0,2354.8 833.0,2358.0 C828.0,2361.2 823.3,2361.2 818.5,2359.5 C813.7,2357.8 808.8,2352.8 804.0,2348.0 C799.2,2343.2 796.9,2334.4 789.7,2330.7 C782.5,2327.0 775.5,2326.8 761.0,2326.0 C746.5,2325.2 716.5,2325.3 703.0,2326.0 C689.5,2326.7 686.2,2328.9 680.0,2330.0 C673.8,2331.1 684.8,2332.2 665.8,2332.6 C646.8,2333.0 582.5,2332.6 565.9,2332.6" fill="none" stroke="rgb(214,24,30)" stroke-width="6" stroke-linejoin="round" stroke-linecap="round"/>
<path d="M1866.0,1463.0 C1865.8,1465.8 1863.7,1474.2 1865.0,1480.0 C1866.3,1485.8 1870.7,1492.3 1874.0,1497.6 C1877.3,1502.9 1882.8,1507.8 1885.0,1512.0 C1887.2,1516.2 1886.8,1518.8 1887.3,1523.0 C1887.8,1527.2 1887.8,1533.3 1888.0,1537.0 C1888.2,1540.7 1888.6,1543.7 1888.7,1545.0" fill="none" stroke="#000" stroke-width="9" stroke-linejoin="round" stroke-linecap="round"/>
<path d="M1855.8,1421.0 C1857.3,1422.1 1861.4,1425.6 1864.8,1427.5 C1868.2,1429.4 1873.9,1430.2 1876.4,1432.5 C1878.9,1434.8 1878.6,1437.4 1880.0,1441.0 C1881.4,1444.6 1883.5,1448.8 1885.0,1454.0 C1886.5,1459.2 1887.7,1466.0 1888.7,1472.0 C1889.7,1478.0 1890.9,1486.1 1891.0,1490.0 C1891.1,1493.9 1889.7,1494.6 1889.4,1495.5" fill="none" stroke="rgb(214,24,30)" stroke-width="8" stroke-linejoin="round" stroke-linecap="round"/>
</svg></body></html>
